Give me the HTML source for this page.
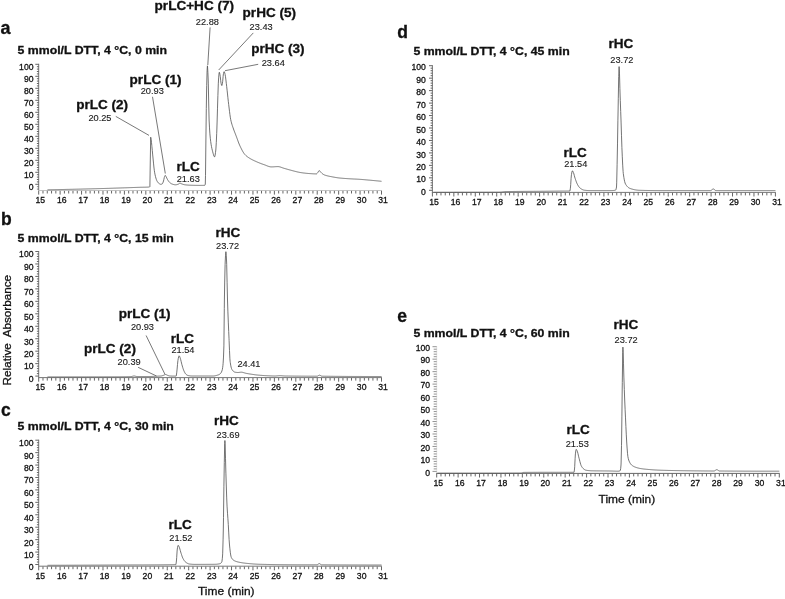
<!DOCTYPE html>
<html lang="en"><head><meta charset="utf-8"><title>Figure</title>
<style>html,body{margin:0;padding:0;background:#fff}svg{display:block}text{font-family:"Liberation Sans", sans-serif}</style>
</head><body>
<svg width="785" height="599" viewBox="0 0 785 599" font-family='"Liberation Sans", sans-serif'>
<rect width="785" height="599" fill="#fff"/>
<line x1="38.70" y1="63.80" x2="38.70" y2="191.00" stroke="#777" stroke-width="1"/>
<line x1="38.20" y1="190.50" x2="382.00" y2="190.50" stroke="#c4c4c4" stroke-width="1"/>
<path d="M35.30,184.30H38.70M36.90,181.90H38.70M36.90,179.50H38.70M36.90,177.10H38.70M36.90,174.70H38.70M35.30,172.30H38.70M36.90,169.90H38.70M36.90,167.50H38.70M36.90,165.10H38.70M36.90,162.70H38.70M35.30,160.30H38.70M36.90,157.90H38.70M36.90,155.50H38.70M36.90,153.10H38.70M36.90,150.70H38.70M35.30,148.30H38.70M36.90,145.90H38.70M36.90,143.50H38.70M36.90,141.10H38.70M36.90,138.70H38.70M35.30,136.30H38.70M36.90,133.90H38.70M36.90,131.50H38.70M36.90,129.10H38.70M36.90,126.70H38.70M35.30,124.30H38.70M36.90,121.90H38.70M36.90,119.50H38.70M36.90,117.10H38.70M36.90,114.70H38.70M35.30,112.30H38.70M36.90,109.90H38.70M36.90,107.50H38.70M36.90,105.10H38.70M36.90,102.70H38.70M35.30,100.30H38.70M36.90,97.90H38.70M36.90,95.50H38.70M36.90,93.10H38.70M36.90,90.70H38.70M35.30,88.30H38.70M36.90,85.90H38.70M36.90,83.50H38.70M36.90,81.10H38.70M36.90,78.70H38.70M35.30,76.30H38.70M36.90,73.90H38.70M36.90,71.50H38.70M36.90,69.10H38.70M36.90,66.70H38.70M35.30,64.30H38.70" stroke="#555" stroke-width="0.9" fill="none"/>
<path d="M38.70,190.90V194.60M42.98,190.90V193.50M47.27,190.90V193.50M51.56,190.90V193.50M55.84,190.90V193.50M60.12,190.90V194.60M64.41,190.90V193.50M68.69,190.90V193.50M72.98,190.90V193.50M77.27,190.90V193.50M81.55,190.90V194.60M85.84,190.90V193.50M90.12,190.90V193.50M94.41,190.90V193.50M98.69,190.90V193.50M102.98,190.90V194.60M107.26,190.90V193.50M111.55,190.90V193.50M115.83,190.90V193.50M120.11,190.90V193.50M124.40,190.90V194.60M128.69,190.90V193.50M132.97,190.90V193.50M137.25,190.90V193.50M141.54,190.90V193.50M145.82,190.90V194.60M150.11,190.90V193.50M154.40,190.90V193.50M158.68,190.90V193.50M162.97,190.90V193.50M167.25,190.90V194.60M171.54,190.90V193.50M175.82,190.90V193.50M180.11,190.90V193.50M184.39,190.90V193.50M188.68,190.90V194.60M192.96,190.90V193.50M197.25,190.90V193.50M201.53,190.90V193.50M205.81,190.90V193.50M210.10,190.90V194.60M214.38,190.90V193.50M218.67,190.90V193.50M222.95,190.90V193.50M227.24,190.90V193.50M231.52,190.90V194.60M235.81,190.90V193.50M240.10,190.90V193.50M244.38,190.90V193.50M248.67,190.90V193.50M252.95,190.90V194.60M257.24,190.90V193.50M261.52,190.90V193.50M265.81,190.90V193.50M270.09,190.90V193.50M274.38,190.90V194.60M278.66,190.90V193.50M282.95,190.90V193.50M287.23,190.90V193.50M291.51,190.90V193.50M295.80,190.90V194.60M300.08,190.90V193.50M304.37,190.90V193.50M308.66,190.90V193.50M312.94,190.90V193.50M317.22,190.90V194.60M321.51,190.90V193.50M325.80,190.90V193.50M330.08,190.90V193.50M334.37,190.90V193.50M338.65,190.90V194.60M342.94,190.90V193.50M347.22,190.90V193.50M351.50,190.90V193.50M355.79,190.90V193.50M360.07,190.90V194.60M364.36,190.90V193.50M368.65,190.90V193.50M372.93,190.90V193.50M377.21,190.90V193.50M381.50,190.90V194.60" stroke="#555" stroke-width="0.9" fill="none"/>
<text transform="translate(33.50,189.70) scale(0.96,1)" font-size="9.0" text-anchor="end" fill="#111" stroke="#111" stroke-width="0.3" id="t1">0</text>
<text transform="translate(33.50,177.70) scale(0.96,1)" font-size="9.0" text-anchor="end" fill="#111" stroke="#111" stroke-width="0.3" id="t2">10</text>
<text transform="translate(33.50,165.70) scale(0.96,1)" font-size="9.0" text-anchor="end" fill="#111" stroke="#111" stroke-width="0.3" id="t3">20</text>
<text transform="translate(33.50,153.70) scale(0.96,1)" font-size="9.0" text-anchor="end" fill="#111" stroke="#111" stroke-width="0.3" id="t4">30</text>
<text transform="translate(33.50,141.70) scale(0.96,1)" font-size="9.0" text-anchor="end" fill="#111" stroke="#111" stroke-width="0.3" id="t5">40</text>
<text transform="translate(33.50,129.70) scale(0.96,1)" font-size="9.0" text-anchor="end" fill="#111" stroke="#111" stroke-width="0.3" id="t6">50</text>
<text transform="translate(33.50,117.70) scale(0.96,1)" font-size="9.0" text-anchor="end" fill="#111" stroke="#111" stroke-width="0.3" id="t7">60</text>
<text transform="translate(33.50,105.70) scale(0.96,1)" font-size="9.0" text-anchor="end" fill="#111" stroke="#111" stroke-width="0.3" id="t8">70</text>
<text transform="translate(33.50,93.70) scale(0.96,1)" font-size="9.0" text-anchor="end" fill="#111" stroke="#111" stroke-width="0.3" id="t9">80</text>
<text transform="translate(33.50,81.70) scale(0.96,1)" font-size="9.0" text-anchor="end" fill="#111" stroke="#111" stroke-width="0.3" id="t10">90</text>
<text transform="translate(33.50,69.70) scale(0.96,1)" font-size="9.0" text-anchor="end" fill="#111" stroke="#111" stroke-width="0.3" id="t11">100</text>
<text transform="translate(40.30,203.20) scale(0.96,1)" font-size="9.0" text-anchor="middle" fill="#111" stroke="#111" stroke-width="0.3" id="t12">15</text>
<text transform="translate(61.73,203.20) scale(0.96,1)" font-size="9.0" text-anchor="middle" fill="#111" stroke="#111" stroke-width="0.3" id="t13">16</text>
<text transform="translate(83.15,203.20) scale(0.96,1)" font-size="9.0" text-anchor="middle" fill="#111" stroke="#111" stroke-width="0.3" id="t14">17</text>
<text transform="translate(104.58,203.20) scale(0.96,1)" font-size="9.0" text-anchor="middle" fill="#111" stroke="#111" stroke-width="0.3" id="t15">18</text>
<text transform="translate(126.00,203.20) scale(0.96,1)" font-size="9.0" text-anchor="middle" fill="#111" stroke="#111" stroke-width="0.3" id="t16">19</text>
<text transform="translate(147.42,203.20) scale(0.96,1)" font-size="9.0" text-anchor="middle" fill="#111" stroke="#111" stroke-width="0.3" id="t17">20</text>
<text transform="translate(168.85,203.20) scale(0.96,1)" font-size="9.0" text-anchor="middle" fill="#111" stroke="#111" stroke-width="0.3" id="t18">21</text>
<text transform="translate(190.28,203.20) scale(0.96,1)" font-size="9.0" text-anchor="middle" fill="#111" stroke="#111" stroke-width="0.3" id="t19">22</text>
<text transform="translate(211.70,203.20) scale(0.96,1)" font-size="9.0" text-anchor="middle" fill="#111" stroke="#111" stroke-width="0.3" id="t20">23</text>
<text transform="translate(233.13,203.20) scale(0.96,1)" font-size="9.0" text-anchor="middle" fill="#111" stroke="#111" stroke-width="0.3" id="t21">24</text>
<text transform="translate(254.55,203.20) scale(0.96,1)" font-size="9.0" text-anchor="middle" fill="#111" stroke="#111" stroke-width="0.3" id="t22">25</text>
<text transform="translate(275.98,203.20) scale(0.96,1)" font-size="9.0" text-anchor="middle" fill="#111" stroke="#111" stroke-width="0.3" id="t23">26</text>
<text transform="translate(297.40,203.20) scale(0.96,1)" font-size="9.0" text-anchor="middle" fill="#111" stroke="#111" stroke-width="0.3" id="t24">27</text>
<text transform="translate(318.83,203.20) scale(0.96,1)" font-size="9.0" text-anchor="middle" fill="#111" stroke="#111" stroke-width="0.3" id="t25">28</text>
<text transform="translate(340.25,203.20) scale(0.96,1)" font-size="9.0" text-anchor="middle" fill="#111" stroke="#111" stroke-width="0.3" id="t26">29</text>
<text transform="translate(361.68,203.20) scale(0.96,1)" font-size="9.0" text-anchor="middle" fill="#111" stroke="#111" stroke-width="0.3" id="t27">30</text>
<text transform="translate(383.10,203.20) scale(0.96,1)" font-size="9.0" text-anchor="middle" fill="#111" stroke="#111" stroke-width="0.3" id="t28">31</text>
<path d="M36.9,186.7H38.7M36.9,189.1H38.7" stroke="#666" stroke-width="0.8"/>
<text transform="translate(0.50,33.90)" font-size="18.0" font-weight="bold" fill="#111" stroke="#111" stroke-width="0.3" id="t29">a</text>
<text transform="translate(17.60,53.50) scale(1.118,1)" font-size="11.0" font-weight="bold" fill="#111" stroke="#111" stroke-width="0.3" id="t30">5 mmol/L DTT, 4 °C, 0 min</text>
<text transform="translate(154.60,9.90) scale(1.075,1)" font-size="12.6" font-weight="bold" fill="#111" stroke="#111" stroke-width="0.3" id="t31">prLC+HC (7)</text>
<text transform="translate(195.80,25.20) scale(1.05,1)" font-size="8.8" fill="#1a1a1a" stroke="#1a1a1a" stroke-width="0.12" id="t32">22.88</text>
<line x1="210.10" y1="27.40" x2="207.80" y2="65.00" stroke="#555" stroke-width="0.8"/>
<text transform="translate(242.60,17.20) scale(1.075,1)" font-size="12.6" font-weight="bold" fill="#111" stroke="#111" stroke-width="0.3" id="t33">prHC (5)</text>
<text transform="translate(249.60,29.90) scale(1.05,1)" font-size="8.8" fill="#1a1a1a" stroke="#1a1a1a" stroke-width="0.12" id="t34">23.43</text>
<line x1="253.30" y1="32.90" x2="218.70" y2="70.00" stroke="#555" stroke-width="0.8"/>
<text transform="translate(251.20,52.90) scale(1.075,1)" font-size="12.6" font-weight="bold" fill="#111" stroke="#111" stroke-width="0.3" id="t35">prHC (3)</text>
<text transform="translate(261.70,65.60) scale(1.05,1)" font-size="8.8" fill="#1a1a1a" stroke="#1a1a1a" stroke-width="0.12" id="t36">23.64</text>
<line x1="258.20" y1="64.30" x2="225.00" y2="70.70" stroke="#555" stroke-width="0.8"/>
<text transform="translate(129.60,84.40) scale(1.075,1)" font-size="12.6" font-weight="bold" fill="#111" stroke="#111" stroke-width="0.3" id="t37">prLC (1)</text>
<text transform="translate(140.70,94.30) scale(1.05,1)" font-size="8.8" fill="#1a1a1a" stroke="#1a1a1a" stroke-width="0.12" id="t38">20.93</text>
<line x1="152.50" y1="96.80" x2="165.30" y2="173.50" stroke="#555" stroke-width="0.8"/>
<text transform="translate(76.20,108.60) scale(1.075,1)" font-size="12.6" font-weight="bold" fill="#111" stroke="#111" stroke-width="0.3" id="t39">prLC (2)</text>
<text transform="translate(88.40,120.80) scale(1.05,1)" font-size="8.8" fill="#1a1a1a" stroke="#1a1a1a" stroke-width="0.12" id="t40">20.25</text>
<line x1="115.80" y1="116.40" x2="149.00" y2="135.40" stroke="#555" stroke-width="0.8"/>
<text transform="translate(176.40,171.00) scale(1.075,1)" font-size="12.6" font-weight="bold" fill="#111" stroke="#111" stroke-width="0.3" id="t41">rLC</text>
<text transform="translate(176.70,181.50) scale(1.05,1)" font-size="8.8" fill="#1a1a1a" stroke="#1a1a1a" stroke-width="0.12" id="t42">21.63</text>
<path d="M47.50,189.80 L47.90,189.79 L48.30,189.79 L48.70,189.78 L49.10,189.77 L49.50,189.76 L49.90,189.76 L50.30,189.75 L50.70,189.74 L51.10,189.74 L51.50,189.73 L51.90,189.72 L52.30,189.71 L52.70,189.71 L53.10,189.70 L53.50,189.69 L53.90,189.68 L54.30,189.68 L54.70,189.67 L55.10,189.66 L55.50,189.65 L55.90,189.65 L56.30,189.64 L56.70,189.63 L57.10,189.62 L57.50,189.61 L57.90,189.61 L58.30,189.60 L58.70,189.59 L59.10,189.58 L59.50,189.57 L59.90,189.57 L60.30,189.56 L60.70,189.55 L61.10,189.54 L61.50,189.53 L61.90,189.52 L62.30,189.52 L62.70,189.51 L63.10,189.50 L63.50,189.49 L63.90,189.48 L64.30,189.47 L64.70,189.47 L65.10,189.46 L65.50,189.45 L65.90,189.44 L66.30,189.43 L66.70,189.42 L67.10,189.41 L67.50,189.40 L67.90,189.40 L68.30,189.39 L68.70,189.38 L69.10,189.37 L69.50,189.36 L69.90,189.35 L70.30,189.34 L70.70,189.33 L71.10,189.32 L71.50,189.32 L71.90,189.31 L72.30,189.30 L72.70,189.29 L73.10,189.28 L73.50,189.27 L73.90,189.26 L74.30,189.25 L74.70,189.24 L75.10,189.23 L75.50,189.22 L75.90,189.21 L76.30,189.20 L76.70,189.19 L77.10,189.18 L77.50,189.18 L77.90,189.17 L78.30,189.16 L78.70,189.15 L79.10,189.14 L79.50,189.13 L79.90,189.12 L80.30,189.11 L80.70,189.10 L81.10,189.09 L81.50,189.08 L81.90,189.07 L82.30,189.06 L82.70,189.05 L83.10,189.04 L83.50,189.03 L83.90,189.02 L84.30,189.01 L84.70,189.00 L85.10,188.99 L85.50,188.98 L85.90,188.97 L86.30,188.96 L86.70,188.95 L87.10,188.94 L87.50,188.93 L87.90,188.92 L88.30,188.91 L88.70,188.90 L89.10,188.89 L89.50,188.88 L89.90,188.87 L90.30,188.86 L90.70,188.85 L91.10,188.84 L91.50,188.83 L91.90,188.82 L92.30,188.80 L92.70,188.79 L93.10,188.78 L93.50,188.77 L93.90,188.76 L94.30,188.75 L94.70,188.74 L95.10,188.73 L95.50,188.72 L95.90,188.71 L96.30,188.70 L96.70,188.69 L97.10,188.68 L97.50,188.67 L97.90,188.66 L98.30,188.65 L98.70,188.64 L99.10,188.62 L99.50,188.61 L99.90,188.60 L100.00,188.60 L100.30,188.59 L100.70,188.58 L101.10,188.57 L101.50,188.56 L101.90,188.55 L102.30,188.54 L102.70,188.52 L103.10,188.51 L103.50,188.50 L103.90,188.49 L104.30,188.48 L104.70,188.47 L105.10,188.46 L105.50,188.44 L105.90,188.43 L106.30,188.42 L106.70,188.41 L107.10,188.40 L107.50,188.38 L107.90,188.37 L108.30,188.36 L108.70,188.35 L109.10,188.33 L109.50,188.32 L109.90,188.31 L110.30,188.30 L110.70,188.28 L111.10,188.27 L111.50,188.26 L111.90,188.24 L112.30,188.23 L112.70,188.22 L113.10,188.21 L113.50,188.19 L113.90,188.18 L114.30,188.17 L114.70,188.15 L115.10,188.14 L115.50,188.13 L115.90,188.11 L116.30,188.10 L116.70,188.09 L117.10,188.07 L117.50,188.06 L117.90,188.05 L118.30,188.03 L118.70,188.02 L119.10,188.01 L119.50,187.99 L119.90,187.98 L120.30,187.97 L120.70,187.95 L121.10,187.94 L121.50,187.92 L121.90,187.91 L122.30,187.90 L122.70,187.88 L123.10,187.87 L123.50,187.86 L123.90,187.84 L124.30,187.83 L124.70,187.81 L125.10,187.80 L125.50,187.79 L125.90,187.77 L126.30,187.76 L126.70,187.75 L127.10,187.73 L127.50,187.72 L127.90,187.71 L128.30,187.69 L128.70,187.68 L129.10,187.66 L129.50,187.65 L129.90,187.64 L130.30,187.62 L130.70,187.61 L131.10,187.60 L131.50,187.58 L131.90,187.57 L132.30,187.55 L132.70,187.54 L133.10,187.53 L133.50,187.51 L133.90,187.50 L134.30,187.49 L134.70,187.47 L135.10,187.46 L135.50,187.45 L135.90,187.43 L136.30,187.42 L136.70,187.41 L137.10,187.39 L137.50,187.38 L137.90,187.37 L138.30,187.36 L138.70,187.34 L139.10,187.33 L139.50,187.32 L139.90,187.30 L140.00,187.30 L140.30,187.29 L140.70,187.28 L141.10,187.27 L141.50,187.26 L141.90,187.26 L142.30,187.25 L142.70,187.24 L143.10,187.24 L143.50,187.23 L143.90,187.23 L144.30,187.22 L144.70,187.21 L145.10,187.21 L145.50,187.20 L145.90,187.19 L146.30,187.17 L146.70,187.16 L147.10,187.14 L147.50,187.13 L147.90,187.11 L148.30,187.08 L148.70,187.05 L149.10,187.02 L149.40,187.00 L149.50,186.98 L149.90,186.50 L149.90,186.50 L150.30,160.00 L150.30,160.00 L150.70,137.20 L150.70,137.20 L151.10,139.35 L151.30,141.00 L151.50,142.66 L151.80,145.50 L151.90,146.47 L152.30,150.63 L152.70,154.93 L153.00,158.00 L153.10,158.99 L153.50,163.08 L153.90,167.01 L154.30,170.32 L154.40,171.00 L154.70,172.82 L155.10,174.90 L155.50,176.62 L155.60,177.00 L155.90,178.06 L156.30,179.33 L156.70,180.38 L157.00,181.00 L157.10,181.18 L157.50,181.83 L157.90,182.39 L158.30,182.86 L158.70,183.22 L158.80,183.30 L159.10,183.52 L159.50,183.80 L159.90,184.04 L160.30,184.21 L160.70,184.30 L160.80,184.30 L161.10,184.28 L161.50,184.18 L161.90,184.02 L162.30,183.80 L162.30,183.80 L162.70,183.24 L163.10,182.21 L163.50,181.00 L163.50,181.00 L163.90,179.34 L164.30,177.48 L164.50,176.80 L164.70,176.25 L165.10,175.45 L165.20,175.40 L165.50,175.64 L165.90,176.33 L166.00,176.50 L166.30,177.04 L166.70,177.88 L167.10,178.74 L167.50,179.50 L167.50,179.50 L167.90,180.16 L168.30,180.79 L168.70,181.37 L169.10,181.88 L169.50,182.30 L169.50,182.30 L169.90,182.66 L170.30,182.99 L170.70,183.29 L171.10,183.56 L171.50,183.78 L171.90,183.96 L172.00,184.00 L172.30,184.10 L172.70,184.24 L173.10,184.37 L173.50,184.49 L173.90,184.59 L174.30,184.68 L174.70,184.74 L175.10,184.79 L175.50,184.80 L175.50,184.80 L175.90,184.78 L176.30,184.73 L176.70,184.66 L177.10,184.56 L177.50,184.45 L177.90,184.33 L178.00,184.30 L178.30,184.16 L178.70,183.88 L179.10,183.56 L179.50,183.31 L179.90,183.20 L179.90,183.20 L180.30,183.26 L180.70,183.40 L181.10,183.59 L181.50,183.79 L181.90,183.97 L182.00,184.00 L182.30,184.10 L182.70,184.22 L183.10,184.35 L183.50,184.47 L183.90,184.58 L184.30,184.68 L184.70,184.75 L185.00,184.80 L185.10,184.81 L185.50,184.86 L185.90,184.91 L186.30,184.95 L186.70,184.99 L187.10,185.03 L187.50,185.06 L187.90,185.09 L188.30,185.12 L188.70,185.14 L189.10,185.16 L189.50,185.18 L189.90,185.20 L190.00,185.20 L190.30,185.21 L190.70,185.22 L191.10,185.24 L191.50,185.25 L191.90,185.26 L192.30,185.27 L192.70,185.29 L193.10,185.30 L193.50,185.31 L193.90,185.32 L194.30,185.33 L194.70,185.34 L195.10,185.34 L195.50,185.35 L195.90,185.36 L196.30,185.37 L196.70,185.37 L197.10,185.38 L197.50,185.38 L197.90,185.39 L198.30,185.39 L198.70,185.40 L199.10,185.40 L199.50,185.40 L199.90,185.40 L200.00,185.40 L200.30,185.40 L200.70,185.40 L201.10,185.40 L201.50,185.39 L201.90,185.39 L202.30,185.39 L202.70,185.38 L203.10,185.37 L203.50,185.36 L203.90,185.34 L204.30,185.33 L204.70,185.31 L204.80,185.30 L205.10,184.81 L205.30,184.00 L205.50,175.38 L205.90,140.00 L205.90,140.00 L206.30,108.56 L206.60,90.00 L206.70,85.68 L207.10,70.44 L207.40,65.80 L207.50,66.14 L207.90,72.56 L208.20,80.00 L208.30,83.14 L208.70,103.03 L209.10,120.00 L209.10,120.00 L209.50,127.88 L209.90,133.83 L210.30,138.24 L210.50,140.00 L210.70,141.56 L211.10,144.30 L211.50,146.61 L211.90,148.56 L212.30,150.23 L212.50,151.00 L212.70,151.76 L213.10,153.31 L213.50,154.76 L213.90,155.95 L214.30,156.71 L214.60,156.90 L214.70,156.83 L215.10,155.40 L215.50,152.59 L215.80,150.00 L215.90,148.96 L216.30,142.41 L216.70,133.41 L216.80,131.00 L217.10,122.05 L217.50,108.15 L217.60,105.00 L217.90,95.47 L218.30,83.85 L218.50,80.00 L218.70,77.17 L219.10,72.88 L219.30,72.20 L219.50,72.48 L219.90,74.25 L220.20,76.00 L220.30,76.69 L220.70,80.63 L221.00,83.00 L221.10,83.47 L221.50,85.11 L221.80,85.60 L221.90,85.51 L222.30,83.87 L222.60,82.00 L222.70,81.24 L223.10,76.69 L223.40,74.00 L223.50,73.50 L223.90,71.87 L224.10,71.60 L224.30,71.77 L224.70,72.88 L225.00,74.00 L225.10,74.42 L225.50,76.79 L225.90,79.93 L226.30,83.34 L226.50,85.00 L226.70,86.66 L227.10,90.23 L227.50,93.98 L227.90,97.73 L228.30,101.32 L228.50,103.00 L228.70,104.65 L229.10,108.00 L229.50,111.30 L229.90,114.42 L230.30,117.21 L230.70,119.52 L230.80,120.00 L231.10,121.32 L231.50,122.89 L231.90,124.28 L232.30,125.54 L232.70,126.71 L233.10,127.85 L233.50,129.00 L233.50,129.00 L233.90,130.14 L234.30,131.21 L234.70,132.24 L235.10,133.26 L235.50,134.27 L235.90,135.30 L235.90,135.30 L236.30,136.36 L236.70,137.46 L237.10,138.56 L237.50,139.67 L237.90,140.78 L238.30,141.86 L238.70,142.92 L239.10,143.93 L239.50,144.89 L239.90,145.79 L240.00,146.00 L240.30,146.63 L240.70,147.46 L241.10,148.28 L241.50,149.08 L241.90,149.86 L242.30,150.61 L242.70,151.33 L243.10,152.01 L243.50,152.65 L243.90,153.25 L244.30,153.79 L244.70,154.29 L244.80,154.40 L245.10,154.73 L245.50,155.14 L245.90,155.52 L246.30,155.88 L246.70,156.22 L247.10,156.53 L247.50,156.84 L247.90,157.12 L248.30,157.40 L248.60,157.60 L248.70,157.67 L249.10,157.93 L249.50,158.18 L249.90,158.42 L250.30,158.66 L250.70,158.89 L251.10,159.11 L251.50,159.33 L251.90,159.54 L252.30,159.75 L252.70,159.95 L253.10,160.15 L253.50,160.34 L253.90,160.53 L254.30,160.72 L254.70,160.91 L255.10,161.09 L255.50,161.27 L255.90,161.45 L256.00,161.50 L256.30,161.63 L256.70,161.81 L257.10,161.99 L257.50,162.16 L257.90,162.33 L258.30,162.49 L258.70,162.66 L259.10,162.82 L259.50,162.98 L259.90,163.14 L260.30,163.29 L260.70,163.45 L261.10,163.60 L261.50,163.75 L261.90,163.89 L262.30,164.04 L262.70,164.18 L263.10,164.32 L263.50,164.46 L263.90,164.60 L263.90,164.60 L264.30,164.74 L264.70,164.89 L265.10,165.04 L265.50,165.20 L265.90,165.36 L266.30,165.53 L266.70,165.69 L267.10,165.85 L267.50,166.00 L267.90,166.15 L268.30,166.29 L268.70,166.42 L269.10,166.53 L269.50,166.64 L269.90,166.73 L270.30,166.80 L270.70,166.85 L271.10,166.89 L271.50,166.90 L271.50,166.90 L271.90,166.90 L272.30,166.89 L272.70,166.87 L273.10,166.85 L273.50,166.83 L273.90,166.81 L274.30,166.78 L274.70,166.75 L275.10,166.72 L275.50,166.69 L275.90,166.67 L276.30,166.65 L276.70,166.63 L277.10,166.61 L277.50,166.60 L277.90,166.60 L277.90,166.60 L278.30,166.61 L278.70,166.65 L279.10,166.72 L279.50,166.80 L279.90,166.90 L280.30,167.02 L280.70,167.15 L281.10,167.29 L281.50,167.43 L281.90,167.58 L282.30,167.73 L282.70,167.88 L283.10,168.02 L283.50,168.15 L283.90,168.27 L284.00,168.30 L284.30,168.38 L284.70,168.50 L285.10,168.61 L285.50,168.73 L285.90,168.85 L286.30,168.96 L286.70,169.08 L287.10,169.20 L287.50,169.31 L287.90,169.43 L288.30,169.54 L288.70,169.65 L289.10,169.76 L289.50,169.87 L289.90,169.97 L290.00,170.00 L290.30,170.08 L290.70,170.18 L291.10,170.29 L291.50,170.40 L291.90,170.50 L292.30,170.61 L292.70,170.72 L293.10,170.82 L293.50,170.93 L293.90,171.04 L294.30,171.14 L294.70,171.25 L295.10,171.35 L295.50,171.45 L295.90,171.55 L296.30,171.65 L296.70,171.75 L297.10,171.85 L297.50,171.94 L297.90,172.03 L298.30,172.12 L298.70,172.20 L299.10,172.28 L299.50,172.36 L299.90,172.44 L300.30,172.51 L300.70,172.58 L301.10,172.64 L301.50,172.70 L301.50,172.70 L301.90,172.76 L302.30,172.81 L302.70,172.87 L303.10,172.92 L303.50,172.97 L303.90,173.02 L304.30,173.07 L304.70,173.12 L305.10,173.16 L305.50,173.21 L305.90,173.25 L306.30,173.29 L306.70,173.33 L307.10,173.37 L307.50,173.41 L307.90,173.44 L308.30,173.48 L308.70,173.51 L309.10,173.54 L309.50,173.57 L309.90,173.59 L310.00,173.60 L310.30,173.62 L310.70,173.65 L311.10,173.67 L311.50,173.70 L311.90,173.72 L312.30,173.75 L312.70,173.77 L313.10,173.80 L313.50,173.82 L313.90,173.84 L314.30,173.85 L314.70,173.87 L315.10,173.88 L315.50,173.89 L315.90,173.90 L316.30,173.90 L316.40,173.90 L316.70,173.79 L317.10,173.40 L317.50,172.88 L317.80,172.50 L317.90,172.37 L318.30,171.71 L318.70,171.02 L319.10,170.62 L319.20,170.60 L319.50,170.72 L319.90,171.13 L320.30,171.65 L320.60,172.00 L320.70,172.10 L321.10,172.50 L321.50,172.91 L321.90,173.30 L322.30,173.65 L322.50,173.80 L322.70,173.94 L323.10,174.21 L323.50,174.46 L323.90,174.69 L324.30,174.88 L324.60,175.00 L324.70,175.04 L325.10,175.18 L325.50,175.31 L325.90,175.44 L326.30,175.56 L326.70,175.67 L327.10,175.77 L327.50,175.87 L327.90,175.97 L328.30,176.06 L328.70,176.15 L329.10,176.24 L329.50,176.32 L329.90,176.40 L330.30,176.47 L330.70,176.55 L331.10,176.63 L331.50,176.70 L331.90,176.78 L332.00,176.80 L332.30,176.86 L332.70,176.93 L333.10,177.01 L333.50,177.08 L333.90,177.16 L334.30,177.23 L334.70,177.30 L335.10,177.37 L335.50,177.44 L335.90,177.51 L336.30,177.57 L336.70,177.63 L337.10,177.69 L337.50,177.75 L337.90,177.81 L338.30,177.86 L338.70,177.91 L339.10,177.96 L339.50,178.00 L339.50,178.00 L339.90,178.04 L340.30,178.08 L340.70,178.12 L341.10,178.16 L341.50,178.19 L341.90,178.23 L342.30,178.26 L342.70,178.30 L343.10,178.33 L343.50,178.36 L343.90,178.39 L344.30,178.42 L344.70,178.45 L345.10,178.48 L345.50,178.51 L345.90,178.54 L346.30,178.56 L346.70,178.59 L347.10,178.62 L347.50,178.64 L347.90,178.67 L348.30,178.69 L348.70,178.72 L349.10,178.74 L349.50,178.77 L349.90,178.79 L350.00,178.80 L350.30,178.82 L350.70,178.84 L351.10,178.87 L351.50,178.89 L351.90,178.91 L352.30,178.93 L352.70,178.95 L353.10,178.97 L353.50,178.99 L353.90,179.01 L354.30,179.03 L354.70,179.05 L355.10,179.07 L355.50,179.09 L355.90,179.10 L356.30,179.12 L356.70,179.15 L357.10,179.17 L357.50,179.19 L357.90,179.21 L358.30,179.23 L358.70,179.26 L359.10,179.28 L359.40,179.30 L359.50,179.31 L359.90,179.33 L360.30,179.36 L360.70,179.39 L361.10,179.42 L361.50,179.45 L361.90,179.48 L362.30,179.51 L362.70,179.55 L363.10,179.58 L363.50,179.61 L363.90,179.65 L364.30,179.68 L364.70,179.72 L365.10,179.75 L365.50,179.79 L365.90,179.82 L366.30,179.86 L366.70,179.90 L367.10,179.93 L367.50,179.97 L367.90,180.01 L368.30,180.05 L368.70,180.08 L369.10,180.12 L369.50,180.15 L369.90,180.19 L370.00,180.20 L370.30,180.23 L370.70,180.26 L371.10,180.30 L371.50,180.34 L371.90,180.37 L372.30,180.41 L372.70,180.45 L373.10,180.48 L373.50,180.52 L373.90,180.56 L374.30,180.60 L374.70,180.63 L375.10,180.67 L375.50,180.71 L375.90,180.75 L376.30,180.79 L376.70,180.83 L377.10,180.86 L377.50,180.90 L377.90,180.94 L378.30,180.98 L378.70,181.02 L379.10,181.06 L379.50,181.10 L379.90,181.14 L380.30,181.18 L380.70,181.22 L381.10,181.26 L381.50,181.30" fill="none" stroke="#505050" stroke-width="0.8" stroke-linejoin="round"/>
<line x1="38.70" y1="251.00" x2="38.70" y2="378.10" stroke="#777" stroke-width="1"/>
<line x1="38.20" y1="377.60" x2="382.00" y2="377.60" stroke="#777" stroke-width="1"/>
<path d="M35.30,376.10H38.70M36.90,373.61H38.70M36.90,371.12H38.70M36.90,368.62H38.70M36.90,366.13H38.70M35.30,363.64H38.70M36.90,361.15H38.70M36.90,358.66H38.70M36.90,356.16H38.70M36.90,353.67H38.70M35.30,351.18H38.70M36.90,348.69H38.70M36.90,346.20H38.70M36.90,343.70H38.70M36.90,341.21H38.70M35.30,338.72H38.70M36.90,336.23H38.70M36.90,333.74H38.70M36.90,331.24H38.70M36.90,328.75H38.70M35.30,326.26H38.70M36.90,323.77H38.70M36.90,321.28H38.70M36.90,318.78H38.70M36.90,316.29H38.70M35.30,313.80H38.70M36.90,311.31H38.70M36.90,308.82H38.70M36.90,306.32H38.70M36.90,303.83H38.70M35.30,301.34H38.70M36.90,298.85H38.70M36.90,296.36H38.70M36.90,293.86H38.70M36.90,291.37H38.70M35.30,288.88H38.70M36.90,286.39H38.70M36.90,283.90H38.70M36.90,281.40H38.70M36.90,278.91H38.70M35.30,276.42H38.70M36.90,273.93H38.70M36.90,271.44H38.70M36.90,268.94H38.70M36.90,266.45H38.70M35.30,263.96H38.70M36.90,261.47H38.70M36.90,258.98H38.70M36.90,256.48H38.70M36.90,253.99H38.70M35.30,251.50H38.70" stroke="#555" stroke-width="0.9" fill="none"/>
<path d="M38.70,378.00V381.70M42.98,378.00V380.60M47.27,378.00V380.60M51.56,378.00V380.60M55.84,378.00V380.60M60.12,378.00V381.70M64.41,378.00V380.60M68.69,378.00V380.60M72.98,378.00V380.60M77.27,378.00V380.60M81.55,378.00V381.70M85.84,378.00V380.60M90.12,378.00V380.60M94.41,378.00V380.60M98.69,378.00V380.60M102.98,378.00V381.70M107.26,378.00V380.60M111.55,378.00V380.60M115.83,378.00V380.60M120.11,378.00V380.60M124.40,378.00V381.70M128.69,378.00V380.60M132.97,378.00V380.60M137.25,378.00V380.60M141.54,378.00V380.60M145.82,378.00V381.70M150.11,378.00V380.60M154.40,378.00V380.60M158.68,378.00V380.60M162.97,378.00V380.60M167.25,378.00V381.70M171.54,378.00V380.60M175.82,378.00V380.60M180.11,378.00V380.60M184.39,378.00V380.60M188.68,378.00V381.70M192.96,378.00V380.60M197.25,378.00V380.60M201.53,378.00V380.60M205.81,378.00V380.60M210.10,378.00V381.70M214.38,378.00V380.60M218.67,378.00V380.60M222.95,378.00V380.60M227.24,378.00V380.60M231.52,378.00V381.70M235.81,378.00V380.60M240.10,378.00V380.60M244.38,378.00V380.60M248.67,378.00V380.60M252.95,378.00V381.70M257.24,378.00V380.60M261.52,378.00V380.60M265.81,378.00V380.60M270.09,378.00V380.60M274.38,378.00V381.70M278.66,378.00V380.60M282.95,378.00V380.60M287.23,378.00V380.60M291.51,378.00V380.60M295.80,378.00V381.70M300.08,378.00V380.60M304.37,378.00V380.60M308.66,378.00V380.60M312.94,378.00V380.60M317.22,378.00V381.70M321.51,378.00V380.60M325.80,378.00V380.60M330.08,378.00V380.60M334.37,378.00V380.60M338.65,378.00V381.70M342.94,378.00V380.60M347.22,378.00V380.60M351.50,378.00V380.60M355.79,378.00V380.60M360.07,378.00V381.70M364.36,378.00V380.60M368.65,378.00V380.60M372.93,378.00V380.60M377.21,378.00V380.60M381.50,378.00V381.70" stroke="#555" stroke-width="0.9" fill="none"/>
<text transform="translate(33.50,381.90) scale(0.96,1)" font-size="9.0" text-anchor="end" fill="#111" stroke="#111" stroke-width="0.3" id="t43">0</text>
<text transform="translate(33.50,369.44) scale(0.96,1)" font-size="9.0" text-anchor="end" fill="#111" stroke="#111" stroke-width="0.3" id="t44">10</text>
<text transform="translate(33.50,356.98) scale(0.96,1)" font-size="9.0" text-anchor="end" fill="#111" stroke="#111" stroke-width="0.3" id="t45">20</text>
<text transform="translate(33.50,344.52) scale(0.96,1)" font-size="9.0" text-anchor="end" fill="#111" stroke="#111" stroke-width="0.3" id="t46">30</text>
<text transform="translate(33.50,332.06) scale(0.96,1)" font-size="9.0" text-anchor="end" fill="#111" stroke="#111" stroke-width="0.3" id="t47">40</text>
<text transform="translate(33.50,319.60) scale(0.96,1)" font-size="9.0" text-anchor="end" fill="#111" stroke="#111" stroke-width="0.3" id="t48">50</text>
<text transform="translate(33.50,307.14) scale(0.96,1)" font-size="9.0" text-anchor="end" fill="#111" stroke="#111" stroke-width="0.3" id="t49">60</text>
<text transform="translate(33.50,294.68) scale(0.96,1)" font-size="9.0" text-anchor="end" fill="#111" stroke="#111" stroke-width="0.3" id="t50">70</text>
<text transform="translate(33.50,282.22) scale(0.96,1)" font-size="9.0" text-anchor="end" fill="#111" stroke="#111" stroke-width="0.3" id="t51">80</text>
<text transform="translate(33.50,269.76) scale(0.96,1)" font-size="9.0" text-anchor="end" fill="#111" stroke="#111" stroke-width="0.3" id="t52">90</text>
<text transform="translate(33.50,257.30) scale(0.96,1)" font-size="9.0" text-anchor="end" fill="#111" stroke="#111" stroke-width="0.3" id="t53">100</text>
<text transform="translate(40.30,390.40) scale(0.96,1)" font-size="9.0" text-anchor="middle" fill="#111" stroke="#111" stroke-width="0.3" id="t54">15</text>
<text transform="translate(61.73,390.40) scale(0.96,1)" font-size="9.0" text-anchor="middle" fill="#111" stroke="#111" stroke-width="0.3" id="t55">16</text>
<text transform="translate(83.15,390.40) scale(0.96,1)" font-size="9.0" text-anchor="middle" fill="#111" stroke="#111" stroke-width="0.3" id="t56">17</text>
<text transform="translate(104.58,390.40) scale(0.96,1)" font-size="9.0" text-anchor="middle" fill="#111" stroke="#111" stroke-width="0.3" id="t57">18</text>
<text transform="translate(126.00,390.40) scale(0.96,1)" font-size="9.0" text-anchor="middle" fill="#111" stroke="#111" stroke-width="0.3" id="t58">19</text>
<text transform="translate(147.42,390.40) scale(0.96,1)" font-size="9.0" text-anchor="middle" fill="#111" stroke="#111" stroke-width="0.3" id="t59">20</text>
<text transform="translate(168.85,390.40) scale(0.96,1)" font-size="9.0" text-anchor="middle" fill="#111" stroke="#111" stroke-width="0.3" id="t60">21</text>
<text transform="translate(190.28,390.40) scale(0.96,1)" font-size="9.0" text-anchor="middle" fill="#111" stroke="#111" stroke-width="0.3" id="t61">22</text>
<text transform="translate(211.70,390.40) scale(0.96,1)" font-size="9.0" text-anchor="middle" fill="#111" stroke="#111" stroke-width="0.3" id="t62">23</text>
<text transform="translate(233.13,390.40) scale(0.96,1)" font-size="9.0" text-anchor="middle" fill="#111" stroke="#111" stroke-width="0.3" id="t63">24</text>
<text transform="translate(254.55,390.40) scale(0.96,1)" font-size="9.0" text-anchor="middle" fill="#111" stroke="#111" stroke-width="0.3" id="t64">25</text>
<text transform="translate(275.98,390.40) scale(0.96,1)" font-size="9.0" text-anchor="middle" fill="#111" stroke="#111" stroke-width="0.3" id="t65">26</text>
<text transform="translate(297.40,390.40) scale(0.96,1)" font-size="9.0" text-anchor="middle" fill="#111" stroke="#111" stroke-width="0.3" id="t66">27</text>
<text transform="translate(318.83,390.40) scale(0.96,1)" font-size="9.0" text-anchor="middle" fill="#111" stroke="#111" stroke-width="0.3" id="t67">28</text>
<text transform="translate(340.25,390.40) scale(0.96,1)" font-size="9.0" text-anchor="middle" fill="#111" stroke="#111" stroke-width="0.3" id="t68">29</text>
<text transform="translate(361.68,390.40) scale(0.96,1)" font-size="9.0" text-anchor="middle" fill="#111" stroke="#111" stroke-width="0.3" id="t69">30</text>
<text transform="translate(383.10,390.40) scale(0.96,1)" font-size="9.0" text-anchor="middle" fill="#111" stroke="#111" stroke-width="0.3" id="t70">31</text>
<text transform="translate(1.00,225.40)" font-size="17.5" font-weight="bold" fill="#111" stroke="#111" stroke-width="0.3" id="t71">b</text>
<text transform="translate(17.60,241.90) scale(1.118,1)" font-size="11.0" font-weight="bold" fill="#111" stroke="#111" stroke-width="0.3" id="t72">5 mmol/L DTT, 4 °C, 15 min</text>
<text transform="translate(215.40,236.70) scale(1.075,1)" font-size="12.6" font-weight="bold" fill="#111" stroke="#111" stroke-width="0.3" id="t73">rHC</text>
<text transform="translate(216.00,248.60) scale(1.05,1)" font-size="8.8" fill="#1a1a1a" stroke="#1a1a1a" stroke-width="0.12" id="t74">23.72</text>
<text transform="translate(118.70,318.30) scale(1.075,1)" font-size="12.6" font-weight="bold" fill="#111" stroke="#111" stroke-width="0.3" id="t75">prLC (1)</text>
<text transform="translate(130.90,330.30) scale(1.05,1)" font-size="8.8" fill="#1a1a1a" stroke="#1a1a1a" stroke-width="0.12" id="t76">20.93</text>
<line x1="146.10" y1="335.50" x2="164.90" y2="374.20" stroke="#555" stroke-width="0.8"/>
<text transform="translate(84.00,353.20) scale(1.075,1)" font-size="12.6" font-weight="bold" fill="#111" stroke="#111" stroke-width="0.3" id="t77">prLC (2)</text>
<text transform="translate(117.60,365.40) scale(1.05,1)" font-size="8.8" fill="#1a1a1a" stroke="#1a1a1a" stroke-width="0.12" id="t78">20.39</text>
<line x1="138.10" y1="367.30" x2="156.50" y2="376.00" stroke="#555" stroke-width="0.8"/>
<text transform="translate(170.70,342.50) scale(1.075,1)" font-size="12.6" font-weight="bold" fill="#111" stroke="#111" stroke-width="0.3" id="t79">rLC</text>
<text transform="translate(171.40,352.80) scale(1.05,1)" font-size="8.8" fill="#1a1a1a" stroke="#1a1a1a" stroke-width="0.12" id="t80">21.54</text>
<text transform="translate(237.40,367.00) scale(1.05,1)" font-size="8.8" fill="#1a1a1a" stroke="#1a1a1a" stroke-width="0.12" id="t81">24.41</text>
<path d="M47.50,376.90 L47.90,376.90 L48.30,376.90 L48.70,376.90 L49.10,376.90 L49.50,376.90 L49.90,376.90 L50.30,376.90 L50.70,376.90 L51.10,376.90 L51.50,376.90 L51.90,376.90 L52.30,376.90 L52.70,376.90 L53.10,376.90 L53.50,376.90 L53.90,376.90 L54.30,376.90 L54.70,376.90 L55.10,376.90 L55.50,376.90 L55.90,376.90 L56.30,376.90 L56.70,376.90 L57.10,376.90 L57.50,376.90 L57.90,376.90 L58.30,376.90 L58.70,376.90 L59.10,376.90 L59.50,376.90 L59.90,376.90 L60.30,376.90 L60.70,376.90 L61.10,376.90 L61.50,376.90 L61.90,376.90 L62.30,376.90 L62.70,376.90 L63.10,376.90 L63.50,376.90 L63.90,376.90 L64.30,376.90 L64.70,376.90 L65.10,376.90 L65.50,376.90 L65.90,376.90 L66.30,376.90 L66.70,376.89 L67.10,376.89 L67.50,376.89 L67.90,376.89 L68.30,376.89 L68.70,376.89 L69.10,376.89 L69.50,376.89 L69.90,376.89 L70.30,376.89 L70.70,376.89 L71.10,376.89 L71.50,376.89 L71.90,376.89 L72.30,376.89 L72.70,376.89 L73.10,376.89 L73.50,376.89 L73.90,376.89 L74.30,376.89 L74.70,376.89 L75.10,376.89 L75.50,376.89 L75.90,376.89 L76.30,376.89 L76.70,376.89 L77.10,376.89 L77.50,376.89 L77.90,376.89 L78.30,376.89 L78.70,376.89 L79.10,376.88 L79.50,376.88 L79.90,376.88 L80.30,376.88 L80.70,376.88 L81.10,376.88 L81.50,376.88 L81.90,376.88 L82.30,376.88 L82.70,376.88 L83.10,376.88 L83.50,376.88 L83.90,376.88 L84.30,376.88 L84.70,376.88 L85.10,376.88 L85.50,376.88 L85.90,376.88 L86.30,376.88 L86.70,376.88 L87.10,376.87 L87.50,376.87 L87.90,376.87 L88.30,376.87 L88.70,376.87 L89.10,376.87 L89.50,376.87 L89.90,376.87 L90.30,376.87 L90.70,376.87 L91.10,376.87 L91.50,376.87 L91.90,376.87 L92.30,376.87 L92.70,376.87 L93.10,376.87 L93.50,376.86 L93.90,376.86 L94.30,376.86 L94.70,376.86 L95.10,376.86 L95.50,376.86 L95.90,376.86 L96.30,376.86 L96.70,376.86 L97.10,376.86 L97.50,376.86 L97.90,376.86 L98.30,376.86 L98.70,376.86 L99.10,376.85 L99.50,376.85 L99.90,376.85 L100.30,376.85 L100.70,376.85 L101.10,376.85 L101.50,376.85 L101.90,376.85 L102.30,376.85 L102.70,376.85 L103.10,376.85 L103.50,376.85 L103.90,376.84 L104.30,376.84 L104.70,376.84 L105.10,376.84 L105.50,376.84 L105.90,376.84 L106.30,376.84 L106.70,376.84 L107.10,376.84 L107.50,376.84 L107.90,376.83 L108.30,376.83 L108.70,376.83 L109.10,376.83 L109.50,376.83 L109.90,376.83 L110.30,376.83 L110.70,376.83 L111.10,376.83 L111.50,376.83 L111.90,376.82 L112.30,376.82 L112.70,376.82 L113.10,376.82 L113.50,376.82 L113.90,376.82 L114.30,376.82 L114.70,376.82 L115.10,376.82 L115.50,376.81 L115.90,376.81 L116.30,376.81 L116.70,376.81 L117.10,376.81 L117.50,376.81 L117.90,376.81 L118.30,376.81 L118.70,376.80 L119.10,376.80 L119.50,376.80 L119.90,376.80 L120.00,376.80 L120.30,376.80 L120.70,376.80 L121.10,376.80 L121.50,376.79 L121.90,376.79 L122.30,376.79 L122.70,376.78 L123.10,376.78 L123.50,376.78 L123.90,376.77 L124.30,376.77 L124.70,376.76 L125.10,376.76 L125.50,376.75 L125.90,376.74 L126.30,376.74 L126.70,376.73 L127.10,376.72 L127.50,376.71 L127.90,376.70 L128.30,376.69 L128.70,376.68 L129.10,376.67 L129.50,376.65 L129.90,376.64 L130.30,376.63 L130.70,376.61 L131.00,376.60 L131.10,376.59 L131.50,376.54 L131.90,376.45 L132.30,376.34 L132.70,376.23 L133.10,376.12 L133.50,376.04 L133.90,376.00 L134.00,376.00 L134.30,376.01 L134.70,376.07 L135.10,376.15 L135.50,376.25 L135.90,376.35 L136.30,376.43 L136.70,376.49 L137.00,376.50 L137.10,376.50 L137.50,376.50 L137.90,376.50 L138.30,376.50 L138.70,376.50 L139.10,376.50 L139.50,376.50 L139.90,376.50 L140.30,376.50 L140.70,376.50 L141.10,376.50 L141.50,376.50 L141.90,376.50 L142.30,376.50 L142.70,376.50 L143.10,376.50 L143.50,376.50 L143.90,376.50 L144.30,376.50 L144.70,376.50 L145.10,376.50 L145.50,376.50 L145.90,376.50 L146.30,376.50 L146.70,376.50 L147.10,376.50 L147.50,376.50 L147.90,376.50 L148.30,376.50 L148.70,376.50 L149.10,376.50 L149.50,376.50 L149.90,376.50 L150.00,376.50 L150.30,376.50 L150.70,376.49 L151.10,376.48 L151.50,376.47 L151.90,376.46 L152.30,376.44 L152.70,376.42 L153.10,376.40 L153.50,376.37 L153.90,376.35 L154.30,376.32 L154.70,376.30 L155.10,376.27 L155.50,376.25 L155.90,376.23 L156.30,376.21 L156.50,376.20 L156.70,376.19 L157.10,376.18 L157.50,376.16 L157.90,376.15 L158.30,376.14 L158.70,376.12 L159.10,376.11 L159.50,376.09 L159.90,376.07 L160.30,376.05 L160.70,376.02 L161.00,376.00 L161.10,375.99 L161.50,375.93 L161.90,375.83 L162.30,375.71 L162.70,375.57 L163.10,375.44 L163.50,375.30 L163.50,375.30 L163.90,375.14 L164.30,374.94 L164.70,374.74 L165.10,374.59 L165.50,374.50 L165.60,374.50 L165.90,374.54 L166.30,374.69 L166.70,374.90 L167.10,375.12 L167.50,375.30 L167.50,375.30 L167.90,375.44 L168.30,375.59 L168.70,375.73 L169.10,375.85 L169.50,375.94 L169.90,375.99 L170.00,376.00 L170.30,376.01 L170.70,376.02 L171.10,376.04 L171.50,376.05 L171.90,376.06 L172.30,376.07 L172.70,376.08 L173.10,376.08 L173.50,376.09 L173.90,376.09 L174.30,376.10 L174.70,376.10 L175.10,376.10 L175.50,376.10 L175.50,376.10 L175.90,376.07 L176.20,376.00 L176.30,375.79 L176.70,372.84 L176.80,372.00 L177.10,369.11 L177.50,364.50 L177.90,360.64 L178.00,360.00 L178.30,358.36 L178.70,356.55 L179.10,355.80 L179.10,355.80 L179.50,356.22 L179.90,357.19 L180.20,358.00 L180.30,358.27 L180.70,359.65 L181.10,361.32 L181.50,363.05 L181.90,364.65 L182.00,365.00 L182.30,366.02 L182.70,367.36 L183.10,368.63 L183.50,369.78 L183.90,370.78 L184.00,371.00 L184.30,371.63 L184.70,372.42 L185.10,373.13 L185.50,373.74 L185.90,374.21 L186.00,374.30 L186.30,374.56 L186.70,374.86 L187.10,375.12 L187.50,375.33 L187.90,375.48 L188.00,375.50 L188.30,375.57 L188.70,375.65 L189.10,375.72 L189.50,375.79 L189.90,375.85 L190.30,375.90 L190.70,375.94 L191.10,375.97 L191.50,375.99 L191.90,376.00 L192.00,376.00 L192.30,376.00 L192.70,376.00 L193.10,376.00 L193.50,376.00 L193.90,376.00 L194.30,376.00 L194.70,376.00 L195.10,376.00 L195.50,376.00 L195.90,376.00 L196.30,376.00 L196.70,376.00 L197.10,376.00 L197.50,376.00 L197.90,376.00 L198.30,376.00 L198.70,376.00 L199.10,376.00 L199.50,376.00 L199.90,376.00 L200.30,376.00 L200.70,376.00 L201.10,376.00 L201.50,376.00 L201.90,376.00 L202.30,376.00 L202.70,376.00 L203.10,376.00 L203.50,376.00 L203.90,376.00 L204.30,376.00 L204.70,376.00 L205.10,376.00 L205.50,376.00 L205.90,376.00 L206.30,376.00 L206.70,376.00 L207.10,376.00 L207.50,376.00 L207.90,376.00 L208.30,376.00 L208.70,376.00 L209.10,376.00 L209.50,376.00 L209.90,376.00 L210.30,376.00 L210.70,376.00 L211.10,376.00 L211.50,376.00 L211.90,376.00 L212.30,376.00 L212.70,376.00 L213.00,376.00 L213.10,376.00 L213.50,375.99 L213.90,375.96 L214.30,375.91 L214.70,375.85 L215.10,375.78 L215.50,375.70 L215.90,375.61 L216.30,375.50 L216.70,375.39 L217.10,375.28 L217.50,375.16 L217.90,375.03 L218.00,375.00 L218.30,374.90 L218.70,374.73 L219.10,374.53 L219.50,374.30 L219.90,374.01 L220.30,373.68 L220.60,373.40 L220.70,373.29 L221.10,372.74 L221.50,371.96 L221.90,370.94 L222.20,370.00 L222.30,369.63 L222.70,367.34 L222.90,365.70 L223.10,363.60 L223.50,357.05 L223.90,345.90 L223.90,345.90 L224.30,308.32 L224.40,300.00 L224.70,282.02 L225.10,264.63 L225.20,262.00 L225.50,255.77 L225.90,251.70 L225.90,251.70 L226.30,255.85 L226.60,262.00 L226.70,264.67 L227.10,282.26 L227.50,300.00 L227.50,300.00 L227.90,311.89 L228.30,322.11 L228.70,331.40 L229.00,338.20 L229.10,340.56 L229.50,350.57 L229.90,358.84 L230.10,361.20 L230.30,362.67 L230.70,365.17 L231.10,367.10 L231.50,368.51 L231.90,369.44 L232.00,369.60 L232.30,370.03 L232.70,370.54 L233.10,370.99 L233.50,371.36 L233.90,371.68 L234.30,371.92 L234.70,372.09 L235.10,372.20 L235.10,372.20 L235.50,372.27 L235.90,372.33 L236.30,372.39 L236.70,372.43 L237.10,372.47 L237.50,372.49 L237.90,372.50 L238.00,372.50 L238.30,372.49 L238.70,372.46 L239.10,372.42 L239.50,372.36 L239.90,372.31 L240.30,372.26 L240.70,372.22 L241.10,372.20 L241.20,372.20 L241.50,372.21 L241.90,372.25 L242.30,372.31 L242.70,372.39 L243.10,372.49 L243.50,372.60 L243.90,372.72 L244.30,372.84 L244.70,372.97 L245.10,373.08 L245.50,373.19 L245.90,373.28 L246.00,373.30 L246.30,373.36 L246.70,373.44 L247.10,373.51 L247.50,373.59 L247.90,373.66 L248.30,373.73 L248.70,373.80 L249.10,373.87 L249.50,373.93 L249.90,374.00 L250.30,374.06 L250.70,374.12 L251.10,374.18 L251.20,374.20 L251.50,374.25 L251.90,374.31 L252.30,374.37 L252.70,374.43 L253.10,374.48 L253.50,374.54 L253.90,374.60 L254.30,374.66 L254.70,374.71 L255.10,374.77 L255.50,374.82 L255.90,374.87 L256.30,374.92 L256.70,374.97 L257.10,375.01 L257.50,375.05 L257.90,375.09 L258.00,375.10 L258.30,375.13 L258.70,375.16 L259.10,375.20 L259.50,375.23 L259.90,375.27 L260.30,375.30 L260.70,375.33 L261.10,375.36 L261.50,375.39 L261.90,375.42 L262.30,375.45 L262.70,375.48 L263.10,375.51 L263.50,375.53 L263.90,375.56 L264.30,375.58 L264.70,375.61 L265.10,375.63 L265.50,375.65 L265.90,375.67 L266.30,375.69 L266.50,375.70 L266.70,375.71 L267.10,375.73 L267.50,375.75 L267.90,375.77 L268.30,375.79 L268.70,375.81 L269.10,375.83 L269.50,375.84 L269.90,375.86 L270.30,375.88 L270.70,375.90 L271.10,375.91 L271.50,375.93 L271.90,375.94 L272.30,375.96 L272.70,375.97 L273.10,375.98 L273.50,375.99 L273.90,375.99 L274.30,376.00 L274.70,376.00 L275.00,376.00 L275.10,376.00 L275.50,375.99 L275.90,375.97 L276.30,375.95 L276.70,375.92 L277.10,375.89 L277.50,375.85 L277.90,375.81 L278.30,375.78 L278.70,375.75 L279.10,375.73 L279.50,375.71 L279.90,375.70 L280.00,375.70 L280.30,375.70 L280.70,375.71 L281.10,375.73 L281.50,375.76 L281.90,375.79 L282.30,375.82 L282.70,375.86 L283.10,375.89 L283.50,375.92 L283.90,375.95 L284.30,375.98 L284.70,375.99 L285.00,376.00 L285.10,376.00 L285.50,376.01 L285.90,376.01 L286.30,376.02 L286.70,376.02 L287.10,376.03 L287.50,376.03 L287.90,376.04 L288.30,376.04 L288.70,376.05 L289.10,376.05 L289.50,376.06 L289.90,376.06 L290.30,376.07 L290.70,376.07 L291.10,376.08 L291.50,376.08 L291.90,376.08 L292.30,376.09 L292.70,376.09 L293.10,376.10 L293.50,376.10 L293.90,376.10 L294.30,376.11 L294.70,376.11 L295.10,376.11 L295.50,376.12 L295.90,376.12 L296.30,376.12 L296.70,376.13 L297.10,376.13 L297.50,376.13 L297.90,376.14 L298.30,376.14 L298.70,376.14 L299.10,376.14 L299.50,376.15 L299.90,376.15 L300.30,376.15 L300.70,376.15 L301.10,376.16 L301.50,376.16 L301.90,376.16 L302.30,376.16 L302.70,376.17 L303.10,376.17 L303.50,376.17 L303.90,376.17 L304.30,376.17 L304.70,376.18 L305.10,376.18 L305.50,376.18 L305.90,376.18 L306.30,376.18 L306.70,376.18 L307.10,376.18 L307.50,376.19 L307.90,376.19 L308.30,376.19 L308.70,376.19 L309.10,376.19 L309.50,376.19 L309.90,376.19 L310.30,376.19 L310.70,376.19 L311.10,376.19 L311.50,376.20 L311.90,376.20 L312.30,376.20 L312.70,376.20 L313.10,376.20 L313.50,376.20 L313.90,376.20 L314.30,376.20 L314.70,376.20 L315.10,376.20 L315.50,376.20 L315.90,376.20 L316.30,376.20 L316.70,376.20 L317.00,376.20 L317.10,376.20 L317.50,376.10 L317.90,375.90 L318.30,375.67 L318.70,375.44 L319.10,375.27 L319.50,375.20 L319.50,375.20 L319.90,375.27 L320.30,375.44 L320.70,375.67 L321.10,375.90 L321.50,376.09 L321.90,376.19 L322.00,376.20 L322.30,376.20 L322.70,376.21 L323.10,376.22 L323.50,376.22 L323.90,376.23 L324.30,376.23 L324.70,376.24 L325.10,376.24 L325.50,376.25 L325.90,376.25 L326.30,376.26 L326.70,376.26 L327.10,376.27 L327.50,376.27 L327.90,376.28 L328.30,376.28 L328.70,376.29 L329.10,376.29 L329.50,376.29 L329.90,376.30 L330.30,376.30 L330.70,376.31 L331.10,376.31 L331.50,376.32 L331.90,376.32 L332.30,376.32 L332.70,376.33 L333.10,376.33 L333.50,376.34 L333.90,376.34 L334.30,376.34 L334.70,376.35 L335.10,376.35 L335.50,376.35 L335.90,376.36 L336.30,376.36 L336.70,376.36 L337.10,376.37 L337.50,376.37 L337.90,376.37 L338.30,376.38 L338.70,376.38 L339.10,376.38 L339.50,376.39 L339.90,376.39 L340.30,376.39 L340.70,376.40 L341.10,376.40 L341.50,376.40 L341.90,376.40 L342.30,376.41 L342.70,376.41 L343.10,376.41 L343.50,376.41 L343.90,376.42 L344.30,376.42 L344.70,376.42 L345.10,376.42 L345.50,376.43 L345.90,376.43 L346.30,376.43 L346.70,376.43 L347.10,376.43 L347.50,376.44 L347.90,376.44 L348.30,376.44 L348.70,376.44 L349.10,376.44 L349.50,376.45 L349.90,376.45 L350.30,376.45 L350.70,376.45 L351.10,376.45 L351.50,376.45 L351.90,376.46 L352.30,376.46 L352.70,376.46 L353.10,376.46 L353.50,376.46 L353.90,376.46 L354.30,376.47 L354.70,376.47 L355.10,376.47 L355.50,376.47 L355.90,376.47 L356.30,376.47 L356.70,376.47 L357.10,376.47 L357.50,376.47 L357.90,376.48 L358.30,376.48 L358.70,376.48 L359.10,376.48 L359.50,376.48 L359.90,376.48 L360.30,376.48 L360.70,376.48 L361.10,376.48 L361.50,376.48 L361.90,376.49 L362.30,376.49 L362.70,376.49 L363.10,376.49 L363.50,376.49 L363.90,376.49 L364.30,376.49 L364.70,376.49 L365.10,376.49 L365.50,376.49 L365.90,376.49 L366.30,376.49 L366.70,376.49 L367.10,376.49 L367.50,376.49 L367.90,376.49 L368.30,376.49 L368.70,376.50 L369.10,376.50 L369.50,376.50 L369.90,376.50 L370.30,376.50 L370.70,376.50 L371.10,376.50 L371.50,376.50 L371.90,376.50 L372.30,376.50 L372.70,376.50 L373.10,376.50 L373.50,376.50 L373.90,376.50 L374.30,376.50 L374.70,376.50 L375.10,376.50 L375.50,376.50 L375.90,376.50 L376.30,376.50 L376.70,376.50 L377.10,376.50 L377.50,376.50 L377.90,376.50 L378.30,376.50 L378.70,376.50 L379.10,376.50 L379.50,376.50 L379.90,376.50 L380.30,376.50 L380.70,376.50 L381.10,376.50 L381.50,376.50" fill="none" stroke="#505050" stroke-width="0.8" stroke-linejoin="round"/>
<line x1="38.70" y1="439.70" x2="38.70" y2="566.70" stroke="#777" stroke-width="1"/>
<line x1="38.20" y1="566.20" x2="382.00" y2="566.20" stroke="#777" stroke-width="1"/>
<path d="M35.30,564.50H38.70M36.90,562.01H38.70M36.90,559.53H38.70M36.90,557.04H38.70M36.90,554.56H38.70M35.30,552.07H38.70M36.90,549.58H38.70M36.90,547.10H38.70M36.90,544.61H38.70M36.90,542.13H38.70M35.30,539.64H38.70M36.90,537.15H38.70M36.90,534.67H38.70M36.90,532.18H38.70M36.90,529.70H38.70M35.30,527.21H38.70M36.90,524.72H38.70M36.90,522.24H38.70M36.90,519.75H38.70M36.90,517.27H38.70M35.30,514.78H38.70M36.90,512.29H38.70M36.90,509.81H38.70M36.90,507.32H38.70M36.90,504.84H38.70M35.30,502.35H38.70M36.90,499.86H38.70M36.90,497.38H38.70M36.90,494.89H38.70M36.90,492.41H38.70M35.30,489.92H38.70M36.90,487.43H38.70M36.90,484.95H38.70M36.90,482.46H38.70M36.90,479.98H38.70M35.30,477.49H38.70M36.90,475.00H38.70M36.90,472.52H38.70M36.90,470.03H38.70M36.90,467.55H38.70M35.30,465.06H38.70M36.90,462.57H38.70M36.90,460.09H38.70M36.90,457.60H38.70M36.90,455.12H38.70M35.30,452.63H38.70M36.90,450.14H38.70M36.90,447.66H38.70M36.90,445.17H38.70M36.90,442.69H38.70M35.30,440.20H38.70" stroke="#555" stroke-width="0.9" fill="none"/>
<path d="M38.70,566.60V570.30M42.98,566.60V569.20M47.27,566.60V569.20M51.56,566.60V569.20M55.84,566.60V569.20M60.12,566.60V570.30M64.41,566.60V569.20M68.69,566.60V569.20M72.98,566.60V569.20M77.27,566.60V569.20M81.55,566.60V570.30M85.84,566.60V569.20M90.12,566.60V569.20M94.41,566.60V569.20M98.69,566.60V569.20M102.98,566.60V570.30M107.26,566.60V569.20M111.55,566.60V569.20M115.83,566.60V569.20M120.11,566.60V569.20M124.40,566.60V570.30M128.69,566.60V569.20M132.97,566.60V569.20M137.25,566.60V569.20M141.54,566.60V569.20M145.82,566.60V570.30M150.11,566.60V569.20M154.40,566.60V569.20M158.68,566.60V569.20M162.97,566.60V569.20M167.25,566.60V570.30M171.54,566.60V569.20M175.82,566.60V569.20M180.11,566.60V569.20M184.39,566.60V569.20M188.68,566.60V570.30M192.96,566.60V569.20M197.25,566.60V569.20M201.53,566.60V569.20M205.81,566.60V569.20M210.10,566.60V570.30M214.38,566.60V569.20M218.67,566.60V569.20M222.95,566.60V569.20M227.24,566.60V569.20M231.52,566.60V570.30M235.81,566.60V569.20M240.10,566.60V569.20M244.38,566.60V569.20M248.67,566.60V569.20M252.95,566.60V570.30M257.24,566.60V569.20M261.52,566.60V569.20M265.81,566.60V569.20M270.09,566.60V569.20M274.38,566.60V570.30M278.66,566.60V569.20M282.95,566.60V569.20M287.23,566.60V569.20M291.51,566.60V569.20M295.80,566.60V570.30M300.08,566.60V569.20M304.37,566.60V569.20M308.66,566.60V569.20M312.94,566.60V569.20M317.22,566.60V570.30M321.51,566.60V569.20M325.80,566.60V569.20M330.08,566.60V569.20M334.37,566.60V569.20M338.65,566.60V570.30M342.94,566.60V569.20M347.22,566.60V569.20M351.50,566.60V569.20M355.79,566.60V569.20M360.07,566.60V570.30M364.36,566.60V569.20M368.65,566.60V569.20M372.93,566.60V569.20M377.21,566.60V569.20M381.50,566.60V570.30" stroke="#555" stroke-width="0.9" fill="none"/>
<text transform="translate(33.50,570.40) scale(0.96,1)" font-size="9.0" text-anchor="end" fill="#111" stroke="#111" stroke-width="0.3" id="t82">0</text>
<text transform="translate(33.50,557.97) scale(0.96,1)" font-size="9.0" text-anchor="end" fill="#111" stroke="#111" stroke-width="0.3" id="t83">10</text>
<text transform="translate(33.50,545.54) scale(0.96,1)" font-size="9.0" text-anchor="end" fill="#111" stroke="#111" stroke-width="0.3" id="t84">20</text>
<text transform="translate(33.50,533.11) scale(0.96,1)" font-size="9.0" text-anchor="end" fill="#111" stroke="#111" stroke-width="0.3" id="t85">30</text>
<text transform="translate(33.50,520.68) scale(0.96,1)" font-size="9.0" text-anchor="end" fill="#111" stroke="#111" stroke-width="0.3" id="t86">40</text>
<text transform="translate(33.50,508.25) scale(0.96,1)" font-size="9.0" text-anchor="end" fill="#111" stroke="#111" stroke-width="0.3" id="t87">50</text>
<text transform="translate(33.50,495.82) scale(0.96,1)" font-size="9.0" text-anchor="end" fill="#111" stroke="#111" stroke-width="0.3" id="t88">60</text>
<text transform="translate(33.50,483.39) scale(0.96,1)" font-size="9.0" text-anchor="end" fill="#111" stroke="#111" stroke-width="0.3" id="t89">70</text>
<text transform="translate(33.50,470.96) scale(0.96,1)" font-size="9.0" text-anchor="end" fill="#111" stroke="#111" stroke-width="0.3" id="t90">80</text>
<text transform="translate(33.50,458.53) scale(0.96,1)" font-size="9.0" text-anchor="end" fill="#111" stroke="#111" stroke-width="0.3" id="t91">90</text>
<text transform="translate(33.50,446.10) scale(0.96,1)" font-size="9.0" text-anchor="end" fill="#111" stroke="#111" stroke-width="0.3" id="t92">100</text>
<text transform="translate(40.30,579.00) scale(0.96,1)" font-size="9.0" text-anchor="middle" fill="#111" stroke="#111" stroke-width="0.3" id="t93">15</text>
<text transform="translate(61.73,579.00) scale(0.96,1)" font-size="9.0" text-anchor="middle" fill="#111" stroke="#111" stroke-width="0.3" id="t94">16</text>
<text transform="translate(83.15,579.00) scale(0.96,1)" font-size="9.0" text-anchor="middle" fill="#111" stroke="#111" stroke-width="0.3" id="t95">17</text>
<text transform="translate(104.58,579.00) scale(0.96,1)" font-size="9.0" text-anchor="middle" fill="#111" stroke="#111" stroke-width="0.3" id="t96">18</text>
<text transform="translate(126.00,579.00) scale(0.96,1)" font-size="9.0" text-anchor="middle" fill="#111" stroke="#111" stroke-width="0.3" id="t97">19</text>
<text transform="translate(147.42,579.00) scale(0.96,1)" font-size="9.0" text-anchor="middle" fill="#111" stroke="#111" stroke-width="0.3" id="t98">20</text>
<text transform="translate(168.85,579.00) scale(0.96,1)" font-size="9.0" text-anchor="middle" fill="#111" stroke="#111" stroke-width="0.3" id="t99">21</text>
<text transform="translate(190.28,579.00) scale(0.96,1)" font-size="9.0" text-anchor="middle" fill="#111" stroke="#111" stroke-width="0.3" id="t100">22</text>
<text transform="translate(211.70,579.00) scale(0.96,1)" font-size="9.0" text-anchor="middle" fill="#111" stroke="#111" stroke-width="0.3" id="t101">23</text>
<text transform="translate(233.13,579.00) scale(0.96,1)" font-size="9.0" text-anchor="middle" fill="#111" stroke="#111" stroke-width="0.3" id="t102">24</text>
<text transform="translate(254.55,579.00) scale(0.96,1)" font-size="9.0" text-anchor="middle" fill="#111" stroke="#111" stroke-width="0.3" id="t103">25</text>
<text transform="translate(275.98,579.00) scale(0.96,1)" font-size="9.0" text-anchor="middle" fill="#111" stroke="#111" stroke-width="0.3" id="t104">26</text>
<text transform="translate(297.40,579.00) scale(0.96,1)" font-size="9.0" text-anchor="middle" fill="#111" stroke="#111" stroke-width="0.3" id="t105">27</text>
<text transform="translate(318.83,579.00) scale(0.96,1)" font-size="9.0" text-anchor="middle" fill="#111" stroke="#111" stroke-width="0.3" id="t106">28</text>
<text transform="translate(340.25,579.00) scale(0.96,1)" font-size="9.0" text-anchor="middle" fill="#111" stroke="#111" stroke-width="0.3" id="t107">29</text>
<text transform="translate(361.68,579.00) scale(0.96,1)" font-size="9.0" text-anchor="middle" fill="#111" stroke="#111" stroke-width="0.3" id="t108">30</text>
<text transform="translate(383.10,579.00) scale(0.96,1)" font-size="9.0" text-anchor="middle" fill="#111" stroke="#111" stroke-width="0.3" id="t109">31</text>
<text transform="translate(1.00,416.40)" font-size="17.5" font-weight="bold" fill="#111" stroke="#111" stroke-width="0.3" id="t110">c</text>
<text transform="translate(17.60,429.60) scale(1.118,1)" font-size="11.0" font-weight="bold" fill="#111" stroke="#111" stroke-width="0.3" id="t111">5 mmol/L DTT, 4 °C, 30 min</text>
<text transform="translate(213.90,424.80) scale(1.075,1)" font-size="12.6" font-weight="bold" fill="#111" stroke="#111" stroke-width="0.3" id="t112">rHC</text>
<text transform="translate(216.50,437.80) scale(1.05,1)" font-size="8.8" fill="#1a1a1a" stroke="#1a1a1a" stroke-width="0.12" id="t113">23.69</text>
<text transform="translate(168.40,528.70) scale(1.075,1)" font-size="12.6" font-weight="bold" fill="#111" stroke="#111" stroke-width="0.3" id="t114">rLC</text>
<text transform="translate(169.30,541.20) scale(1.05,1)" font-size="8.8" fill="#1a1a1a" stroke="#1a1a1a" stroke-width="0.12" id="t115">21.52</text>
<path d="M47.50,565.30 L47.90,565.30 L48.30,565.30 L48.70,565.30 L49.10,565.30 L49.50,565.30 L49.90,565.29 L50.30,565.29 L50.70,565.29 L51.10,565.29 L51.50,565.29 L51.90,565.29 L52.30,565.29 L52.70,565.29 L53.10,565.29 L53.50,565.28 L53.90,565.28 L54.30,565.28 L54.70,565.28 L55.10,565.28 L55.50,565.28 L55.90,565.28 L56.30,565.28 L56.70,565.28 L57.10,565.27 L57.50,565.27 L57.90,565.27 L58.30,565.27 L58.70,565.27 L59.10,565.27 L59.50,565.27 L59.90,565.27 L60.30,565.26 L60.70,565.26 L61.10,565.26 L61.50,565.26 L61.90,565.26 L62.30,565.26 L62.70,565.26 L63.10,565.25 L63.50,565.25 L63.90,565.25 L64.30,565.25 L64.70,565.25 L65.10,565.25 L65.50,565.25 L65.90,565.25 L66.30,565.24 L66.70,565.24 L67.10,565.24 L67.50,565.24 L67.90,565.24 L68.30,565.24 L68.70,565.24 L69.10,565.23 L69.50,565.23 L69.90,565.23 L70.30,565.23 L70.70,565.23 L71.10,565.23 L71.50,565.23 L71.90,565.22 L72.30,565.22 L72.70,565.22 L73.10,565.22 L73.50,565.22 L73.90,565.22 L74.30,565.21 L74.70,565.21 L75.10,565.21 L75.50,565.21 L75.90,565.21 L76.30,565.21 L76.70,565.21 L77.10,565.20 L77.50,565.20 L77.90,565.20 L78.30,565.20 L78.70,565.20 L79.10,565.20 L79.50,565.19 L79.90,565.19 L80.30,565.19 L80.70,565.19 L81.10,565.19 L81.50,565.19 L81.90,565.18 L82.30,565.18 L82.70,565.18 L83.10,565.18 L83.50,565.18 L83.90,565.18 L84.30,565.17 L84.70,565.17 L85.10,565.17 L85.50,565.17 L85.90,565.17 L86.30,565.16 L86.70,565.16 L87.10,565.16 L87.50,565.16 L87.90,565.16 L88.30,565.16 L88.70,565.15 L89.10,565.15 L89.50,565.15 L89.90,565.15 L90.30,565.15 L90.70,565.15 L91.10,565.14 L91.50,565.14 L91.90,565.14 L92.30,565.14 L92.70,565.14 L93.10,565.13 L93.50,565.13 L93.90,565.13 L94.30,565.13 L94.70,565.13 L95.10,565.13 L95.50,565.12 L95.90,565.12 L96.30,565.12 L96.70,565.12 L97.10,565.12 L97.50,565.11 L97.90,565.11 L98.30,565.11 L98.70,565.11 L99.10,565.11 L99.50,565.10 L99.90,565.10 L100.30,565.10 L100.70,565.10 L101.10,565.10 L101.50,565.09 L101.90,565.09 L102.30,565.09 L102.70,565.09 L103.10,565.09 L103.50,565.08 L103.90,565.08 L104.30,565.08 L104.70,565.08 L105.10,565.08 L105.50,565.07 L105.90,565.07 L106.30,565.07 L106.70,565.07 L107.10,565.07 L107.50,565.06 L107.90,565.06 L108.30,565.06 L108.70,565.06 L109.10,565.06 L109.50,565.05 L109.90,565.05 L110.30,565.05 L110.70,565.05 L111.10,565.05 L111.50,565.04 L111.90,565.04 L112.30,565.04 L112.70,565.04 L113.10,565.04 L113.50,565.03 L113.90,565.03 L114.30,565.03 L114.70,565.03 L115.10,565.03 L115.50,565.02 L115.90,565.02 L116.30,565.02 L116.70,565.02 L117.10,565.02 L117.50,565.01 L117.90,565.01 L118.30,565.01 L118.70,565.01 L119.10,565.00 L119.50,565.00 L119.90,565.00 L120.00,565.00 L120.30,565.00 L120.70,565.00 L121.10,564.99 L121.50,564.99 L121.90,564.99 L122.30,564.99 L122.70,564.99 L123.10,564.99 L123.50,564.98 L123.90,564.98 L124.30,564.98 L124.70,564.98 L125.10,564.98 L125.50,564.98 L125.90,564.97 L126.30,564.97 L126.70,564.97 L127.10,564.97 L127.50,564.97 L127.90,564.97 L128.30,564.97 L128.70,564.97 L129.10,564.96 L129.50,564.96 L129.90,564.96 L130.30,564.96 L130.70,564.96 L131.10,564.96 L131.50,564.96 L131.90,564.96 L132.30,564.96 L132.70,564.95 L133.10,564.95 L133.50,564.95 L133.90,564.95 L134.30,564.95 L134.70,564.95 L135.10,564.95 L135.50,564.95 L135.90,564.95 L136.30,564.95 L136.70,564.94 L137.10,564.94 L137.50,564.94 L137.90,564.94 L138.30,564.94 L138.70,564.94 L139.10,564.94 L139.50,564.94 L139.90,564.94 L140.30,564.94 L140.70,564.93 L141.10,564.93 L141.50,564.93 L141.90,564.93 L142.30,564.93 L142.70,564.93 L143.10,564.93 L143.50,564.93 L143.90,564.93 L144.30,564.92 L144.70,564.92 L145.10,564.92 L145.50,564.92 L145.90,564.92 L146.30,564.92 L146.70,564.92 L147.10,564.91 L147.50,564.91 L147.90,564.91 L148.30,564.91 L148.70,564.91 L149.10,564.91 L149.50,564.90 L149.90,564.90 L150.30,564.90 L150.70,564.90 L151.10,564.90 L151.50,564.89 L151.90,564.89 L152.30,564.89 L152.70,564.89 L153.10,564.89 L153.50,564.88 L153.90,564.88 L154.30,564.88 L154.70,564.88 L155.10,564.87 L155.50,564.87 L155.90,564.87 L156.30,564.86 L156.70,564.86 L157.10,564.86 L157.50,564.86 L157.90,564.85 L158.30,564.85 L158.70,564.85 L159.10,564.84 L159.50,564.84 L159.90,564.84 L160.30,564.83 L160.70,564.83 L161.10,564.82 L161.50,564.82 L161.90,564.82 L162.30,564.81 L162.70,564.81 L163.10,564.80 L163.50,564.80 L163.90,564.79 L164.30,564.79 L164.70,564.78 L165.10,564.78 L165.50,564.77 L165.90,564.77 L166.30,564.76 L166.70,564.76 L167.10,564.75 L167.50,564.75 L167.90,564.74 L168.30,564.74 L168.70,564.73 L169.10,564.72 L169.50,564.72 L169.90,564.71 L170.30,564.70 L170.70,564.70 L171.10,564.69 L171.50,564.68 L171.90,564.68 L172.30,564.67 L172.70,564.66 L173.10,564.66 L173.50,564.65 L173.90,564.64 L174.30,564.63 L174.70,564.62 L175.10,564.62 L175.50,564.61 L175.90,564.60 L175.90,564.60 L176.30,562.06 L176.50,560.00 L176.70,557.43 L177.10,551.07 L177.30,549.00 L177.50,547.76 L177.90,545.83 L178.20,545.30 L178.30,545.33 L178.70,545.88 L179.10,546.78 L179.20,547.00 L179.50,547.77 L179.90,549.09 L180.30,550.56 L180.70,552.02 L181.00,553.00 L181.10,553.30 L181.50,554.53 L181.90,555.74 L182.30,556.88 L182.70,557.87 L183.00,558.50 L183.10,558.69 L183.50,559.40 L183.90,560.06 L184.30,560.66 L184.70,561.19 L185.10,561.64 L185.50,562.00 L185.50,562.00 L185.90,562.31 L186.30,562.60 L186.70,562.88 L187.10,563.14 L187.50,563.37 L187.90,563.57 L188.30,563.74 L188.70,563.87 L189.10,563.97 L189.30,564.00 L189.50,564.03 L189.90,564.08 L190.30,564.12 L190.70,564.16 L191.10,564.20 L191.50,564.24 L191.90,564.27 L192.30,564.30 L192.70,564.33 L193.10,564.35 L193.50,564.37 L193.90,564.38 L194.30,564.39 L194.70,564.40 L195.00,564.40 L195.10,564.40 L195.50,564.40 L195.90,564.40 L196.30,564.40 L196.70,564.40 L197.10,564.40 L197.50,564.40 L197.90,564.40 L198.30,564.40 L198.70,564.40 L199.10,564.40 L199.50,564.40 L199.90,564.40 L200.30,564.39 L200.70,564.39 L201.10,564.39 L201.50,564.39 L201.90,564.39 L202.30,564.39 L202.70,564.39 L203.10,564.39 L203.50,564.39 L203.90,564.38 L204.30,564.38 L204.70,564.38 L205.10,564.38 L205.50,564.38 L205.90,564.38 L206.30,564.37 L206.70,564.37 L207.10,564.37 L207.50,564.37 L207.90,564.36 L208.30,564.36 L208.70,564.36 L209.10,564.36 L209.50,564.35 L209.90,564.35 L210.30,564.35 L210.70,564.34 L211.10,564.34 L211.50,564.34 L211.90,564.33 L212.30,564.33 L212.70,564.33 L213.10,564.32 L213.50,564.32 L213.90,564.31 L214.30,564.31 L214.70,564.30 L215.00,564.30 L215.10,564.30 L215.50,564.29 L215.90,564.27 L216.30,564.25 L216.70,564.22 L217.10,564.18 L217.50,564.13 L217.90,564.08 L218.30,564.02 L218.70,563.95 L219.10,563.88 L219.50,563.80 L219.50,563.80 L219.90,563.69 L220.30,563.53 L220.70,563.28 L221.10,562.93 L221.50,562.45 L221.80,562.00 L221.90,561.73 L222.30,558.77 L222.60,555.00 L222.70,553.15 L223.10,539.23 L223.30,530.00 L223.50,517.47 L223.90,486.22 L224.00,480.00 L224.30,462.44 L224.70,443.59 L224.90,440.50 L225.10,443.15 L225.50,458.22 L225.80,470.00 L225.90,473.14 L226.30,486.02 L226.70,497.93 L227.00,505.00 L227.10,506.90 L227.50,513.21 L227.90,518.62 L228.20,523.00 L228.30,524.65 L228.70,532.08 L229.10,539.47 L229.50,545.00 L229.50,545.00 L229.90,548.85 L230.30,552.24 L230.70,554.97 L231.10,556.85 L231.30,557.40 L231.50,557.80 L231.90,558.48 L232.30,559.05 L232.70,559.51 L233.10,559.89 L233.50,560.19 L233.90,560.44 L234.00,560.50 L234.30,560.66 L234.70,560.86 L235.10,561.04 L235.50,561.21 L235.90,561.36 L236.30,561.50 L236.70,561.63 L237.10,561.74 L237.50,561.85 L237.90,561.95 L238.30,562.05 L238.70,562.14 L239.00,562.20 L239.10,562.22 L239.50,562.30 L239.90,562.38 L240.30,562.46 L240.70,562.53 L241.10,562.60 L241.50,562.67 L241.90,562.74 L242.30,562.80 L242.70,562.87 L243.10,562.93 L243.50,562.98 L243.90,563.04 L244.30,563.09 L244.70,563.14 L245.10,563.19 L245.50,563.24 L245.90,563.29 L246.30,563.33 L246.70,563.37 L247.10,563.41 L247.50,563.45 L247.90,563.49 L248.00,563.50 L248.30,563.53 L248.70,563.56 L249.10,563.60 L249.50,563.64 L249.90,563.67 L250.30,563.71 L250.70,563.74 L251.10,563.78 L251.50,563.81 L251.90,563.84 L252.30,563.88 L252.70,563.91 L253.10,563.94 L253.50,563.97 L253.90,564.00 L254.30,564.02 L254.70,564.05 L255.10,564.08 L255.50,564.10 L255.90,564.13 L256.30,564.15 L256.70,564.17 L257.10,564.19 L257.50,564.21 L257.90,564.23 L258.30,564.25 L258.70,564.26 L259.10,564.27 L259.50,564.29 L259.90,564.30 L260.00,564.30 L260.30,564.31 L260.70,564.32 L261.10,564.33 L261.50,564.34 L261.90,564.34 L262.30,564.35 L262.70,564.36 L263.10,564.37 L263.50,564.38 L263.90,564.39 L264.30,564.40 L264.70,564.41 L265.10,564.42 L265.50,564.42 L265.90,564.43 L266.30,564.44 L266.70,564.45 L267.10,564.46 L267.50,564.46 L267.90,564.47 L268.30,564.48 L268.70,564.49 L269.10,564.50 L269.50,564.50 L269.90,564.51 L270.30,564.52 L270.70,564.53 L271.10,564.53 L271.50,564.54 L271.90,564.55 L272.30,564.55 L272.70,564.56 L273.10,564.57 L273.50,564.57 L273.90,564.58 L274.30,564.59 L274.70,564.59 L275.10,564.60 L275.50,564.61 L275.90,564.61 L276.30,564.62 L276.70,564.62 L277.10,564.63 L277.50,564.64 L277.90,564.64 L278.30,564.65 L278.70,564.65 L279.10,564.66 L279.50,564.66 L279.90,564.67 L280.30,564.67 L280.70,564.68 L281.10,564.68 L281.50,564.69 L281.90,564.69 L282.30,564.70 L282.70,564.70 L283.10,564.71 L283.50,564.71 L283.90,564.72 L284.30,564.72 L284.70,564.72 L285.10,564.73 L285.50,564.73 L285.90,564.73 L286.30,564.74 L286.70,564.74 L287.10,564.75 L287.50,564.75 L287.90,564.75 L288.30,564.75 L288.70,564.76 L289.10,564.76 L289.50,564.76 L289.90,564.77 L290.30,564.77 L290.70,564.77 L291.10,564.77 L291.50,564.78 L291.90,564.78 L292.30,564.78 L292.70,564.78 L293.10,564.78 L293.50,564.79 L293.90,564.79 L294.30,564.79 L294.70,564.79 L295.10,564.79 L295.50,564.79 L295.90,564.79 L296.30,564.80 L296.70,564.80 L297.10,564.80 L297.50,564.80 L297.90,564.80 L298.30,564.80 L298.70,564.80 L299.10,564.80 L299.50,564.80 L299.90,564.80 L300.00,564.80 L300.30,564.80 L300.70,564.80 L301.10,564.80 L301.50,564.80 L301.90,564.80 L302.30,564.80 L302.70,564.80 L303.10,564.80 L303.50,564.80 L303.90,564.80 L304.30,564.80 L304.70,564.80 L305.10,564.80 L305.50,564.80 L305.90,564.80 L306.30,564.80 L306.70,564.80 L307.10,564.80 L307.50,564.80 L307.90,564.80 L308.30,564.80 L308.70,564.80 L309.10,564.80 L309.50,564.80 L309.90,564.80 L310.30,564.80 L310.70,564.80 L311.10,564.80 L311.50,564.80 L311.90,564.80 L312.30,564.80 L312.70,564.80 L313.10,564.80 L313.50,564.80 L313.90,564.80 L314.30,564.80 L314.70,564.80 L315.10,564.80 L315.50,564.80 L315.90,564.80 L316.30,564.80 L316.70,564.80 L317.00,564.80 L317.10,564.79 L317.50,564.65 L317.90,564.39 L318.30,564.08 L318.70,563.80 L319.10,563.63 L319.30,563.60 L319.50,563.63 L319.90,563.82 L320.30,564.12 L320.70,564.44 L321.10,564.69 L321.50,564.80 L321.50,564.80 L321.90,564.80 L322.30,564.81 L322.70,564.81 L323.10,564.81 L323.50,564.82 L323.90,564.82 L324.30,564.83 L324.70,564.83 L325.10,564.83 L325.50,564.84 L325.90,564.84 L326.30,564.84 L326.70,564.85 L327.10,564.85 L327.50,564.85 L327.90,564.86 L328.30,564.86 L328.70,564.86 L329.10,564.86 L329.50,564.87 L329.90,564.87 L330.30,564.87 L330.70,564.88 L331.10,564.88 L331.50,564.88 L331.90,564.88 L332.30,564.89 L332.70,564.89 L333.10,564.89 L333.50,564.89 L333.90,564.90 L334.30,564.90 L334.70,564.90 L335.10,564.90 L335.50,564.91 L335.90,564.91 L336.30,564.91 L336.70,564.91 L337.10,564.92 L337.50,564.92 L337.90,564.92 L338.30,564.92 L338.70,564.92 L339.10,564.93 L339.50,564.93 L339.90,564.93 L340.30,564.93 L340.70,564.93 L341.10,564.93 L341.50,564.94 L341.90,564.94 L342.30,564.94 L342.70,564.94 L343.10,564.94 L343.50,564.95 L343.90,564.95 L344.30,564.95 L344.70,564.95 L345.10,564.95 L345.50,564.95 L345.90,564.95 L346.30,564.96 L346.70,564.96 L347.10,564.96 L347.50,564.96 L347.90,564.96 L348.30,564.96 L348.70,564.96 L349.10,564.96 L349.50,564.97 L349.90,564.97 L350.30,564.97 L350.70,564.97 L351.10,564.97 L351.50,564.97 L351.90,564.97 L352.30,564.97 L352.70,564.97 L353.10,564.98 L353.50,564.98 L353.90,564.98 L354.30,564.98 L354.70,564.98 L355.10,564.98 L355.50,564.98 L355.90,564.98 L356.30,564.98 L356.70,564.98 L357.10,564.98 L357.50,564.98 L357.90,564.99 L358.30,564.99 L358.70,564.99 L359.10,564.99 L359.50,564.99 L359.90,564.99 L360.30,564.99 L360.70,564.99 L361.10,564.99 L361.50,564.99 L361.90,564.99 L362.30,564.99 L362.70,564.99 L363.10,564.99 L363.50,564.99 L363.90,564.99 L364.30,564.99 L364.70,564.99 L365.10,564.99 L365.50,564.99 L365.90,565.00 L366.30,565.00 L366.70,565.00 L367.10,565.00 L367.50,565.00 L367.90,565.00 L368.30,565.00 L368.70,565.00 L369.10,565.00 L369.50,565.00 L369.90,565.00 L370.30,565.00 L370.70,565.00 L371.10,565.00 L371.50,565.00 L371.90,565.00 L372.30,565.00 L372.70,565.00 L373.10,565.00 L373.50,565.00 L373.90,565.00 L374.30,565.00 L374.70,565.00 L375.10,565.00 L375.50,565.00 L375.90,565.00 L376.30,565.00 L376.70,565.00 L377.10,565.00 L377.50,565.00 L377.90,565.00 L378.30,565.00 L378.70,565.00 L379.10,565.00 L379.50,565.00 L379.90,565.00 L380.30,565.00 L380.70,565.00 L381.10,565.00 L381.50,565.00" fill="none" stroke="#505050" stroke-width="0.8" stroke-linejoin="round"/>
<text transform="translate(198.00,595.00) scale(1.03,1)" font-size="11.6" fill="#111" stroke="#111" stroke-width="0.3" id="t116">Time (min)</text>
<text transform="translate(10.8,385.4) rotate(-90)" font-size="11.7" fill="#111" stroke="#111" stroke-width="0.3" xml:space="preserve" style="white-space:pre" id="trot">Relative  Absorbance</text>
<line x1="432.40" y1="65.20" x2="432.40" y2="192.90" stroke="#777" stroke-width="1"/>
<line x1="431.90" y1="192.40" x2="775.90" y2="192.40" stroke="#777" stroke-width="1"/>
<path d="M429.00,190.30H432.40M430.60,187.81H432.40M430.60,185.32H432.40M430.60,182.82H432.40M430.60,180.33H432.40M429.00,177.84H432.40M430.60,175.35H432.40M430.60,172.86H432.40M430.60,170.36H432.40M430.60,167.87H432.40M429.00,165.38H432.40M430.60,162.89H432.40M430.60,160.40H432.40M430.60,157.90H432.40M430.60,155.41H432.40M429.00,152.92H432.40M430.60,150.43H432.40M430.60,147.94H432.40M430.60,145.44H432.40M430.60,142.95H432.40M429.00,140.46H432.40M430.60,137.97H432.40M430.60,135.48H432.40M430.60,132.98H432.40M430.60,130.49H432.40M429.00,128.00H432.40M430.60,125.51H432.40M430.60,123.02H432.40M430.60,120.52H432.40M430.60,118.03H432.40M429.00,115.54H432.40M430.60,113.05H432.40M430.60,110.56H432.40M430.60,108.06H432.40M430.60,105.57H432.40M429.00,103.08H432.40M430.60,100.59H432.40M430.60,98.10H432.40M430.60,95.60H432.40M430.60,93.11H432.40M429.00,90.62H432.40M430.60,88.13H432.40M430.60,85.64H432.40M430.60,83.14H432.40M430.60,80.65H432.40M429.00,78.16H432.40M430.60,75.67H432.40M430.60,73.18H432.40M430.60,70.68H432.40M430.60,68.19H432.40M429.00,65.70H432.40" stroke="#555" stroke-width="0.9" fill="none"/>
<path d="M432.40,192.80V196.50M436.69,192.80V195.40M440.97,192.80V195.40M445.26,192.80V195.40M449.55,192.80V195.40M453.84,192.80V196.50M458.12,192.80V195.40M462.41,192.80V195.40M466.70,192.80V195.40M470.99,192.80V195.40M475.27,192.80V196.50M479.56,192.80V195.40M483.85,192.80V195.40M488.14,192.80V195.40M492.42,192.80V195.40M496.71,192.80V196.50M501.00,192.80V195.40M505.29,192.80V195.40M509.57,192.80V195.40M513.86,192.80V195.40M518.15,192.80V196.50M522.44,192.80V195.40M526.73,192.80V195.40M531.01,192.80V195.40M535.30,192.80V195.40M539.59,192.80V196.50M543.88,192.80V195.40M548.16,192.80V195.40M552.45,192.80V195.40M556.74,192.80V195.40M561.02,192.80V196.50M565.31,192.80V195.40M569.60,192.80V195.40M573.89,192.80V195.40M578.17,192.80V195.40M582.46,192.80V196.50M586.75,192.80V195.40M591.04,192.80V195.40M595.33,192.80V195.40M599.61,192.80V195.40M603.90,192.80V196.50M608.19,192.80V195.40M612.47,192.80V195.40M616.76,192.80V195.40M621.05,192.80V195.40M625.34,192.80V196.50M629.62,192.80V195.40M633.91,192.80V195.40M638.20,192.80V195.40M642.49,192.80V195.40M646.77,192.80V196.50M651.06,192.80V195.40M655.35,192.80V195.40M659.64,192.80V195.40M663.92,192.80V195.40M668.21,192.80V196.50M672.50,192.80V195.40M676.79,192.80V195.40M681.08,192.80V195.40M685.36,192.80V195.40M689.65,192.80V196.50M693.94,192.80V195.40M698.22,192.80V195.40M702.51,192.80V195.40M706.80,192.80V195.40M711.09,192.80V196.50M715.38,192.80V195.40M719.66,192.80V195.40M723.95,192.80V195.40M728.24,192.80V195.40M732.52,192.80V196.50M736.81,192.80V195.40M741.10,192.80V195.40M745.39,192.80V195.40M749.67,192.80V195.40M753.96,192.80V196.50M758.25,192.80V195.40M762.54,192.80V195.40M766.83,192.80V195.40M771.11,192.80V195.40M775.40,192.80V196.50" stroke="#555" stroke-width="0.9" fill="none"/>
<text transform="translate(425.80,194.90) scale(0.96,1)" font-size="9.0" text-anchor="end" fill="#111" stroke="#111" stroke-width="0.3" id="t117">0</text>
<text transform="translate(425.80,182.44) scale(0.96,1)" font-size="9.0" text-anchor="end" fill="#111" stroke="#111" stroke-width="0.3" id="t118">10</text>
<text transform="translate(425.80,169.98) scale(0.96,1)" font-size="9.0" text-anchor="end" fill="#111" stroke="#111" stroke-width="0.3" id="t119">20</text>
<text transform="translate(425.80,157.52) scale(0.96,1)" font-size="9.0" text-anchor="end" fill="#111" stroke="#111" stroke-width="0.3" id="t120">30</text>
<text transform="translate(425.80,145.06) scale(0.96,1)" font-size="9.0" text-anchor="end" fill="#111" stroke="#111" stroke-width="0.3" id="t121">40</text>
<text transform="translate(425.80,132.60) scale(0.96,1)" font-size="9.0" text-anchor="end" fill="#111" stroke="#111" stroke-width="0.3" id="t122">50</text>
<text transform="translate(425.80,120.14) scale(0.96,1)" font-size="9.0" text-anchor="end" fill="#111" stroke="#111" stroke-width="0.3" id="t123">60</text>
<text transform="translate(425.80,107.68) scale(0.96,1)" font-size="9.0" text-anchor="end" fill="#111" stroke="#111" stroke-width="0.3" id="t124">70</text>
<text transform="translate(425.80,95.22) scale(0.96,1)" font-size="9.0" text-anchor="end" fill="#111" stroke="#111" stroke-width="0.3" id="t125">80</text>
<text transform="translate(425.80,82.76) scale(0.96,1)" font-size="9.0" text-anchor="end" fill="#111" stroke="#111" stroke-width="0.3" id="t126">90</text>
<text transform="translate(425.80,70.30) scale(0.96,1)" font-size="9.0" text-anchor="end" fill="#111" stroke="#111" stroke-width="0.3" id="t127">100</text>
<text transform="translate(434.00,204.90) scale(0.96,1)" font-size="9.0" text-anchor="middle" fill="#111" stroke="#111" stroke-width="0.3" id="t128">15</text>
<text transform="translate(455.44,204.90) scale(0.96,1)" font-size="9.0" text-anchor="middle" fill="#111" stroke="#111" stroke-width="0.3" id="t129">16</text>
<text transform="translate(476.88,204.90) scale(0.96,1)" font-size="9.0" text-anchor="middle" fill="#111" stroke="#111" stroke-width="0.3" id="t130">17</text>
<text transform="translate(498.31,204.90) scale(0.96,1)" font-size="9.0" text-anchor="middle" fill="#111" stroke="#111" stroke-width="0.3" id="t131">18</text>
<text transform="translate(519.75,204.90) scale(0.96,1)" font-size="9.0" text-anchor="middle" fill="#111" stroke="#111" stroke-width="0.3" id="t132">19</text>
<text transform="translate(541.19,204.90) scale(0.96,1)" font-size="9.0" text-anchor="middle" fill="#111" stroke="#111" stroke-width="0.3" id="t133">20</text>
<text transform="translate(562.62,204.90) scale(0.96,1)" font-size="9.0" text-anchor="middle" fill="#111" stroke="#111" stroke-width="0.3" id="t134">21</text>
<text transform="translate(584.06,204.90) scale(0.96,1)" font-size="9.0" text-anchor="middle" fill="#111" stroke="#111" stroke-width="0.3" id="t135">22</text>
<text transform="translate(605.50,204.90) scale(0.96,1)" font-size="9.0" text-anchor="middle" fill="#111" stroke="#111" stroke-width="0.3" id="t136">23</text>
<text transform="translate(626.94,204.90) scale(0.96,1)" font-size="9.0" text-anchor="middle" fill="#111" stroke="#111" stroke-width="0.3" id="t137">24</text>
<text transform="translate(648.38,204.90) scale(0.96,1)" font-size="9.0" text-anchor="middle" fill="#111" stroke="#111" stroke-width="0.3" id="t138">25</text>
<text transform="translate(669.81,204.90) scale(0.96,1)" font-size="9.0" text-anchor="middle" fill="#111" stroke="#111" stroke-width="0.3" id="t139">26</text>
<text transform="translate(691.25,204.90) scale(0.96,1)" font-size="9.0" text-anchor="middle" fill="#111" stroke="#111" stroke-width="0.3" id="t140">27</text>
<text transform="translate(712.69,204.90) scale(0.96,1)" font-size="9.0" text-anchor="middle" fill="#111" stroke="#111" stroke-width="0.3" id="t141">28</text>
<text transform="translate(734.12,204.90) scale(0.96,1)" font-size="9.0" text-anchor="middle" fill="#111" stroke="#111" stroke-width="0.3" id="t142">29</text>
<text transform="translate(755.56,204.90) scale(0.96,1)" font-size="9.0" text-anchor="middle" fill="#111" stroke="#111" stroke-width="0.3" id="t143">30</text>
<text transform="translate(777.00,204.90) scale(0.96,1)" font-size="9.0" text-anchor="middle" fill="#111" stroke="#111" stroke-width="0.3" id="t144">31</text>
<text transform="translate(397.20,38.00)" font-size="17.5" font-weight="bold" fill="#111" stroke="#111" stroke-width="0.3" id="t145">d</text>
<text transform="translate(413.40,55.20) scale(1.118,1)" font-size="11.0" font-weight="bold" fill="#111" stroke="#111" stroke-width="0.3" id="t146">5 mmol/L DTT, 4 °C, 45 min</text>
<text transform="translate(608.50,47.80) scale(1.075,1)" font-size="12.6" font-weight="bold" fill="#111" stroke="#111" stroke-width="0.3" id="t147">rHC</text>
<text transform="translate(610.30,62.50) scale(1.05,1)" font-size="8.8" fill="#1a1a1a" stroke="#1a1a1a" stroke-width="0.12" id="t148">23.72</text>
<text transform="translate(563.40,156.70) scale(1.075,1)" font-size="12.6" font-weight="bold" fill="#111" stroke="#111" stroke-width="0.3" id="t149">rLC</text>
<text transform="translate(564.20,167.40) scale(1.05,1)" font-size="8.8" fill="#1a1a1a" stroke="#1a1a1a" stroke-width="0.12" id="t150">21.54</text>
<path d="M433.50,192.30 L433.90,192.30 L434.30,192.30 L434.70,192.30 L435.10,192.30 L435.50,192.30 L435.90,192.30 L436.30,192.30 L436.70,192.30 L437.10,192.30 L437.50,192.30 L437.90,192.30 L438.30,192.30 L438.70,192.30 L439.10,192.30 L439.50,192.30 L439.90,192.30 L440.30,192.30 L440.70,192.30 L441.10,192.30 L441.50,192.30 L441.90,192.30 L442.30,192.30 L442.70,192.30 L443.10,192.30 L443.50,192.30 L443.90,192.30 L444.30,192.30 L444.70,192.30 L445.10,192.30 L445.50,192.30 L445.90,192.30 L446.30,192.30 L446.70,192.30 L447.10,192.30 L447.50,192.30 L447.90,192.30 L448.30,192.30 L448.70,192.30 L449.10,192.30 L449.50,192.30 L449.90,192.30 L450.30,192.30 L450.70,192.30 L451.10,192.30 L451.50,192.30 L451.90,192.30 L452.30,192.30 L452.70,192.30 L453.10,192.30 L453.50,192.30 L453.90,192.30 L454.30,192.29 L454.70,192.29 L455.10,192.29 L455.50,192.29 L455.90,192.29 L456.30,192.29 L456.70,192.29 L457.10,192.29 L457.50,192.29 L457.90,192.29 L458.30,192.29 L458.70,192.29 L459.10,192.29 L459.50,192.29 L459.90,192.29 L460.30,192.29 L460.70,192.29 L461.10,192.29 L461.50,192.29 L461.90,192.29 L462.30,192.29 L462.70,192.29 L463.10,192.29 L463.50,192.29 L463.90,192.29 L464.30,192.29 L464.70,192.29 L465.10,192.29 L465.50,192.29 L465.90,192.28 L466.30,192.28 L466.70,192.28 L467.10,192.28 L467.50,192.28 L467.90,192.28 L468.30,192.28 L468.70,192.28 L469.10,192.28 L469.50,192.28 L469.90,192.28 L470.30,192.28 L470.70,192.28 L471.10,192.28 L471.50,192.28 L471.90,192.28 L472.30,192.28 L472.70,192.28 L473.10,192.27 L473.50,192.27 L473.90,192.27 L474.30,192.27 L474.70,192.27 L475.10,192.27 L475.50,192.27 L475.90,192.27 L476.30,192.27 L476.70,192.27 L477.10,192.27 L477.50,192.27 L477.90,192.27 L478.30,192.26 L478.70,192.26 L479.10,192.26 L479.50,192.26 L479.90,192.26 L480.30,192.26 L480.70,192.26 L481.10,192.26 L481.50,192.26 L481.90,192.26 L482.30,192.26 L482.70,192.26 L483.10,192.25 L483.50,192.25 L483.90,192.25 L484.30,192.25 L484.70,192.25 L485.10,192.25 L485.50,192.25 L485.90,192.25 L486.30,192.25 L486.70,192.24 L487.10,192.24 L487.50,192.24 L487.90,192.24 L488.30,192.24 L488.70,192.24 L489.10,192.24 L489.50,192.24 L489.90,192.24 L490.30,192.23 L490.70,192.23 L491.10,192.23 L491.50,192.23 L491.90,192.23 L492.30,192.23 L492.70,192.23 L493.10,192.23 L493.50,192.22 L493.90,192.22 L494.30,192.22 L494.70,192.22 L495.10,192.22 L495.50,192.22 L495.90,192.22 L496.30,192.21 L496.70,192.21 L497.10,192.21 L497.50,192.21 L497.90,192.21 L498.30,192.21 L498.70,192.21 L499.10,192.20 L499.50,192.20 L499.90,192.20 L500.00,192.20 L500.30,192.19 L500.70,192.18 L501.10,192.15 L501.50,192.11 L501.90,192.06 L502.30,192.01 L502.70,191.96 L503.10,191.90 L503.50,191.84 L503.90,191.78 L504.30,191.73 L504.70,191.69 L505.10,191.65 L505.50,191.62 L505.90,191.60 L506.00,191.60 L506.30,191.59 L506.70,191.59 L507.10,191.58 L507.50,191.57 L507.90,191.56 L508.30,191.56 L508.70,191.55 L509.10,191.54 L509.50,191.54 L509.90,191.53 L510.30,191.53 L510.70,191.52 L511.10,191.51 L511.50,191.51 L511.90,191.50 L512.30,191.50 L512.70,191.49 L513.10,191.49 L513.50,191.48 L513.90,191.48 L514.30,191.47 L514.70,191.47 L515.10,191.47 L515.50,191.46 L515.90,191.46 L516.30,191.45 L516.70,191.45 L517.10,191.45 L517.50,191.44 L517.90,191.44 L518.30,191.44 L518.70,191.43 L519.10,191.43 L519.50,191.43 L519.90,191.42 L520.30,191.42 L520.70,191.42 L521.10,191.42 L521.50,191.41 L521.90,191.41 L522.30,191.41 L522.70,191.41 L523.10,191.40 L523.50,191.40 L523.90,191.40 L524.30,191.40 L524.70,191.39 L525.10,191.39 L525.50,191.39 L525.90,191.39 L526.30,191.39 L526.70,191.38 L527.10,191.38 L527.50,191.38 L527.90,191.38 L528.30,191.38 L528.70,191.37 L529.10,191.37 L529.50,191.37 L529.90,191.37 L530.30,191.37 L530.70,191.36 L531.10,191.36 L531.50,191.36 L531.90,191.36 L532.30,191.36 L532.70,191.35 L533.10,191.35 L533.50,191.35 L533.90,191.35 L534.30,191.34 L534.70,191.34 L535.10,191.34 L535.50,191.34 L535.90,191.33 L536.30,191.33 L536.70,191.33 L537.10,191.32 L537.50,191.32 L537.90,191.32 L538.30,191.32 L538.70,191.31 L539.10,191.31 L539.50,191.30 L539.90,191.30 L540.00,191.30 L540.30,191.30 L540.70,191.29 L541.10,191.29 L541.50,191.29 L541.90,191.28 L542.30,191.28 L542.70,191.27 L543.10,191.27 L543.50,191.27 L543.90,191.26 L544.30,191.26 L544.70,191.25 L545.10,191.25 L545.50,191.25 L545.90,191.24 L546.30,191.24 L546.70,191.23 L547.10,191.23 L547.50,191.23 L547.90,191.22 L548.30,191.22 L548.70,191.21 L549.10,191.21 L549.50,191.21 L549.90,191.20 L550.30,191.20 L550.70,191.19 L551.10,191.19 L551.50,191.19 L551.90,191.18 L552.30,191.18 L552.70,191.17 L553.10,191.17 L553.50,191.17 L553.90,191.16 L554.30,191.16 L554.70,191.15 L555.10,191.15 L555.50,191.15 L555.90,191.14 L556.30,191.14 L556.70,191.13 L557.10,191.13 L557.50,191.13 L557.90,191.12 L558.30,191.12 L558.70,191.11 L559.10,191.11 L559.50,191.11 L559.90,191.10 L560.00,191.10 L560.30,191.10 L560.70,191.09 L561.10,191.09 L561.50,191.09 L561.90,191.09 L562.30,191.08 L562.70,191.08 L563.10,191.08 L563.50,191.08 L563.90,191.08 L564.30,191.08 L564.70,191.07 L565.10,191.07 L565.50,191.07 L565.90,191.07 L566.30,191.06 L566.70,191.06 L567.10,191.05 L567.50,191.05 L567.90,191.04 L568.30,191.04 L568.70,191.03 L569.10,191.02 L569.50,191.01 L569.90,191.00 L569.90,191.00 L570.30,188.81 L570.50,187.00 L570.70,184.66 L571.10,178.39 L571.40,175.00 L571.50,174.36 L571.90,172.09 L572.30,170.86 L572.40,170.80 L572.70,171.03 L573.10,171.81 L573.40,172.50 L573.50,172.74 L573.90,173.98 L574.30,175.48 L574.70,177.00 L575.00,178.00 L575.10,178.30 L575.50,179.49 L575.90,180.65 L576.30,181.75 L576.70,182.78 L577.10,183.70 L577.50,184.50 L577.50,184.50 L577.90,185.21 L578.30,185.88 L578.70,186.50 L579.10,187.06 L579.50,187.53 L579.90,187.92 L580.00,188.00 L580.30,188.23 L580.70,188.53 L581.10,188.81 L581.50,189.07 L581.90,189.31 L582.30,189.53 L582.70,189.72 L583.10,189.89 L583.50,190.03 L583.90,190.13 L584.30,190.20 L584.30,190.20 L584.70,190.25 L585.10,190.30 L585.50,190.34 L585.90,190.38 L586.30,190.42 L586.70,190.46 L587.10,190.49 L587.50,190.52 L587.90,190.54 L588.30,190.56 L588.70,190.58 L589.10,190.59 L589.50,190.60 L589.90,190.60 L590.00,190.60 L590.30,190.60 L590.70,190.60 L591.10,190.60 L591.50,190.60 L591.90,190.60 L592.30,190.60 L592.70,190.60 L593.10,190.60 L593.50,190.60 L593.90,190.60 L594.30,190.60 L594.70,190.60 L595.10,190.60 L595.50,190.60 L595.90,190.60 L596.30,190.60 L596.70,190.60 L597.10,190.60 L597.50,190.60 L597.90,190.60 L598.30,190.60 L598.70,190.60 L599.10,190.60 L599.50,190.60 L599.90,190.60 L600.30,190.60 L600.70,190.60 L601.10,190.60 L601.50,190.60 L601.90,190.60 L602.30,190.60 L602.70,190.60 L603.10,190.60 L603.50,190.60 L603.90,190.60 L604.30,190.60 L604.70,190.60 L605.10,190.60 L605.50,190.60 L605.90,190.60 L606.30,190.60 L606.70,190.60 L607.10,190.60 L607.50,190.60 L607.90,190.60 L608.30,190.60 L608.70,190.60 L609.10,190.60 L609.50,190.60 L609.90,190.60 L610.00,190.60 L610.30,190.60 L610.70,190.60 L611.10,190.59 L611.50,190.58 L611.90,190.57 L612.30,190.55 L612.70,190.53 L613.10,190.50 L613.50,190.47 L613.90,190.43 L614.30,190.38 L614.70,190.33 L615.10,190.27 L615.50,190.20 L615.50,190.20 L615.90,189.64 L616.30,188.12 L616.50,187.00 L616.70,182.87 L617.10,164.77 L617.20,160.00 L617.50,143.92 L617.90,120.24 L618.00,115.00 L618.30,98.28 L618.70,76.55 L619.10,66.60 L619.10,66.60 L619.50,73.90 L619.90,88.45 L620.10,95.00 L620.30,100.56 L620.70,111.55 L621.00,120.00 L621.10,122.97 L621.50,135.75 L621.90,147.57 L622.00,150.00 L622.30,156.81 L622.70,165.14 L623.10,171.48 L623.30,173.50 L623.50,175.01 L623.90,177.68 L624.30,179.90 L624.70,181.68 L625.10,183.05 L625.50,184.02 L625.60,184.20 L625.90,184.69 L626.30,185.28 L626.70,185.82 L627.10,186.30 L627.50,186.73 L627.90,187.12 L628.30,187.45 L628.70,187.74 L629.10,187.99 L629.50,188.21 L629.90,188.39 L630.20,188.50 L630.30,188.53 L630.70,188.67 L631.10,188.80 L631.50,188.93 L631.90,189.05 L632.30,189.16 L632.70,189.27 L633.10,189.38 L633.50,189.48 L633.90,189.57 L634.30,189.66 L634.70,189.75 L635.10,189.82 L635.50,189.90 L635.90,189.96 L636.30,190.02 L636.70,190.08 L637.10,190.13 L637.50,190.17 L637.90,190.21 L638.30,190.24 L638.70,190.27 L639.10,190.29 L639.40,190.30 L639.50,190.30 L639.90,190.32 L640.30,190.33 L640.70,190.34 L641.10,190.35 L641.50,190.36 L641.90,190.37 L642.30,190.38 L642.70,190.39 L643.10,190.40 L643.50,190.41 L643.90,190.42 L644.30,190.43 L644.70,190.44 L645.10,190.45 L645.50,190.46 L645.90,190.46 L646.30,190.47 L646.70,190.48 L647.10,190.49 L647.50,190.49 L647.90,190.50 L648.30,190.51 L648.70,190.51 L649.10,190.52 L649.50,190.53 L649.90,190.53 L650.30,190.54 L650.70,190.54 L651.10,190.55 L651.50,190.55 L651.90,190.56 L652.30,190.56 L652.70,190.56 L653.10,190.57 L653.50,190.57 L653.90,190.58 L654.30,190.58 L654.70,190.58 L655.10,190.58 L655.50,190.59 L655.90,190.59 L656.30,190.59 L656.70,190.59 L657.10,190.59 L657.50,190.60 L657.90,190.60 L658.30,190.60 L658.70,190.60 L659.10,190.60 L659.50,190.60 L659.90,190.60 L660.00,190.60 L660.30,190.60 L660.70,190.60 L661.10,190.60 L661.50,190.60 L661.90,190.60 L662.30,190.60 L662.70,190.60 L663.10,190.60 L663.50,190.60 L663.90,190.60 L664.30,190.60 L664.70,190.60 L665.10,190.60 L665.50,190.60 L665.90,190.60 L666.30,190.60 L666.70,190.60 L667.10,190.60 L667.50,190.60 L667.90,190.60 L668.30,190.60 L668.70,190.60 L669.10,190.60 L669.50,190.60 L669.90,190.60 L670.30,190.60 L670.70,190.60 L671.10,190.60 L671.50,190.60 L671.90,190.60 L672.30,190.60 L672.70,190.60 L673.10,190.60 L673.50,190.60 L673.90,190.60 L674.30,190.60 L674.70,190.60 L675.10,190.60 L675.50,190.60 L675.90,190.60 L676.30,190.60 L676.70,190.60 L677.10,190.60 L677.50,190.60 L677.90,190.60 L678.30,190.60 L678.70,190.60 L679.10,190.60 L679.50,190.60 L679.90,190.60 L680.30,190.60 L680.70,190.60 L681.10,190.60 L681.50,190.60 L681.90,190.60 L682.30,190.60 L682.70,190.60 L683.10,190.60 L683.50,190.60 L683.90,190.60 L684.30,190.60 L684.70,190.60 L685.10,190.60 L685.50,190.60 L685.90,190.60 L686.30,190.60 L686.70,190.60 L687.10,190.60 L687.50,190.60 L687.90,190.60 L688.30,190.60 L688.70,190.60 L689.10,190.60 L689.50,190.60 L689.90,190.60 L690.30,190.60 L690.70,190.60 L691.10,190.60 L691.50,190.60 L691.90,190.60 L692.30,190.60 L692.70,190.60 L693.10,190.60 L693.50,190.60 L693.90,190.60 L694.30,190.60 L694.70,190.60 L695.10,190.60 L695.50,190.60 L695.90,190.60 L696.30,190.60 L696.70,190.60 L697.10,190.60 L697.50,190.60 L697.90,190.60 L698.30,190.60 L698.70,190.60 L699.10,190.60 L699.50,190.60 L699.90,190.60 L700.30,190.60 L700.70,190.60 L701.10,190.60 L701.50,190.60 L701.90,190.60 L702.30,190.60 L702.70,190.60 L703.10,190.60 L703.50,190.60 L703.90,190.60 L704.30,190.60 L704.70,190.60 L705.10,190.60 L705.50,190.60 L705.90,190.60 L706.30,190.60 L706.70,190.60 L707.10,190.60 L707.50,190.60 L707.90,190.60 L708.30,190.60 L708.70,190.60 L709.10,190.60 L709.50,190.60 L709.90,190.60 L710.30,190.60 L710.50,190.60 L710.70,190.58 L711.10,190.41 L711.50,190.13 L711.90,189.80 L712.30,189.47 L712.70,189.19 L713.10,189.02 L713.30,189.00 L713.50,189.03 L713.90,189.20 L714.30,189.50 L714.70,189.84 L715.10,190.19 L715.50,190.46 L715.90,190.59 L716.00,190.60 L716.30,190.60 L716.70,190.60 L717.10,190.60 L717.50,190.60 L717.90,190.60 L718.30,190.60 L718.70,190.60 L719.10,190.60 L719.50,190.60 L719.90,190.60 L720.30,190.60 L720.70,190.60 L721.10,190.60 L721.50,190.60 L721.90,190.60 L722.30,190.60 L722.70,190.60 L723.10,190.60 L723.50,190.60 L723.90,190.60 L724.30,190.60 L724.70,190.60 L725.10,190.60 L725.50,190.60 L725.90,190.60 L726.30,190.60 L726.70,190.60 L727.10,190.60 L727.50,190.60 L727.90,190.60 L728.30,190.60 L728.70,190.60 L729.10,190.60 L729.50,190.60 L729.90,190.60 L730.30,190.60 L730.70,190.60 L731.10,190.60 L731.50,190.60 L731.90,190.60 L732.30,190.60 L732.70,190.60 L733.10,190.60 L733.50,190.60 L733.90,190.60 L734.30,190.60 L734.70,190.60 L735.10,190.60 L735.50,190.60 L735.90,190.60 L736.30,190.60 L736.70,190.60 L737.10,190.60 L737.50,190.60 L737.90,190.60 L738.30,190.60 L738.70,190.60 L739.10,190.60 L739.50,190.60 L739.90,190.60 L740.30,190.60 L740.70,190.60 L741.10,190.60 L741.50,190.60 L741.90,190.60 L742.30,190.60 L742.70,190.60 L743.10,190.60 L743.50,190.60 L743.90,190.60 L744.30,190.60 L744.70,190.60 L745.10,190.60 L745.50,190.60 L745.90,190.60 L746.30,190.60 L746.70,190.60 L747.10,190.60 L747.50,190.60 L747.90,190.60 L748.30,190.60 L748.70,190.60 L749.10,190.60 L749.50,190.60 L749.90,190.60 L750.30,190.60 L750.70,190.60 L751.10,190.60 L751.50,190.60 L751.90,190.60 L752.30,190.60 L752.70,190.60 L753.10,190.60 L753.50,190.60 L753.90,190.60 L754.30,190.60 L754.70,190.60 L755.10,190.60 L755.50,190.60 L755.90,190.60 L756.30,190.60 L756.70,190.60 L757.10,190.60 L757.50,190.60 L757.90,190.60 L758.30,190.60 L758.70,190.60 L759.10,190.60 L759.50,190.60 L759.90,190.60 L760.30,190.60 L760.70,190.60 L761.10,190.60 L761.50,190.60 L761.90,190.60 L762.30,190.60 L762.70,190.60 L763.10,190.60 L763.50,190.60 L763.90,190.60 L764.30,190.60 L764.70,190.60 L765.10,190.60 L765.50,190.60 L765.90,190.60 L766.30,190.60 L766.70,190.60 L767.10,190.60 L767.50,190.60 L767.90,190.60 L768.30,190.60 L768.70,190.60 L769.10,190.60 L769.50,190.60 L769.90,190.60 L770.30,190.60 L770.70,190.60 L771.10,190.60 L771.50,190.60 L771.90,190.60 L772.30,190.60 L772.70,190.60 L773.10,190.60 L773.50,190.60 L773.90,190.60 L774.30,190.60 L774.70,190.60 L775.10,190.60 L775.40,190.60" fill="none" stroke="#505050" stroke-width="0.8" stroke-linejoin="round"/>
<line x1="436.70" y1="346.20" x2="436.70" y2="473.90" stroke="#e4e4e4" stroke-width="1"/>
<line x1="436.20" y1="473.40" x2="779.80" y2="473.40" stroke="#666" stroke-width="1"/>
<path d="M432.50,471.40H436.70M433.70,468.91H436.70M433.70,466.41H436.70M433.70,463.92H436.70M433.70,461.42H436.70M432.50,458.93H436.70M433.70,456.44H436.70M433.70,453.94H436.70M433.70,451.45H436.70M433.70,448.95H436.70M432.50,446.46H436.70M433.70,443.97H436.70M433.70,441.47H436.70M433.70,438.98H436.70M433.70,436.48H436.70M432.50,433.99H436.70M433.70,431.50H436.70M433.70,429.00H436.70M433.70,426.51H436.70M433.70,424.01H436.70M432.50,421.52H436.70M433.70,419.03H436.70M433.70,416.53H436.70M433.70,414.04H436.70M433.70,411.54H436.70M432.50,409.05H436.70M433.70,406.56H436.70M433.70,404.06H436.70M433.70,401.57H436.70M433.70,399.07H436.70M432.50,396.58H436.70M433.70,394.09H436.70M433.70,391.59H436.70M433.70,389.10H436.70M433.70,386.60H436.70M432.50,384.11H436.70M433.70,381.62H436.70M433.70,379.12H436.70M433.70,376.63H436.70M433.70,374.13H436.70M432.50,371.64H436.70M433.70,369.15H436.70M433.70,366.65H436.70M433.70,364.16H436.70M433.70,361.66H436.70M432.50,359.17H436.70M433.70,356.68H436.70M433.70,354.18H436.70M433.70,351.69H436.70M433.70,349.19H436.70M432.50,346.70H436.70" stroke="#888" stroke-width="0.9" fill="none"/>
<path d="M436.70,473.80V477.50M440.98,473.80V476.40M445.26,473.80V476.40M449.55,473.80V476.40M453.83,473.80V476.40M458.11,473.80V477.50M462.39,473.80V476.40M466.68,473.80V476.40M470.96,473.80V476.40M475.24,473.80V476.40M479.52,473.80V477.50M483.81,473.80V476.40M488.09,473.80V476.40M492.37,473.80V476.40M496.65,473.80V476.40M500.94,473.80V477.50M505.22,473.80V476.40M509.50,473.80V476.40M513.78,473.80V476.40M518.07,473.80V476.40M522.35,473.80V477.50M526.63,473.80V476.40M530.91,473.80V476.40M535.20,473.80V476.40M539.48,473.80V476.40M543.76,473.80V477.50M548.04,473.80V476.40M552.33,473.80V476.40M556.61,473.80V476.40M560.89,473.80V476.40M565.17,473.80V477.50M569.46,473.80V476.40M573.74,473.80V476.40M578.02,473.80V476.40M582.30,473.80V476.40M586.59,473.80V477.50M590.87,473.80V476.40M595.15,473.80V476.40M599.43,473.80V476.40M603.72,473.80V476.40M608.00,473.80V477.50M612.28,473.80V476.40M616.56,473.80V476.40M620.85,473.80V476.40M625.13,473.80V476.40M629.41,473.80V477.50M633.69,473.80V476.40M637.98,473.80V476.40M642.26,473.80V476.40M646.54,473.80V476.40M650.83,473.80V477.50M655.11,473.80V476.40M659.39,473.80V476.40M663.67,473.80V476.40M667.95,473.80V476.40M672.24,473.80V477.50M676.52,473.80V476.40M680.80,473.80V476.40M685.09,473.80V476.40M689.37,473.80V476.40M693.65,473.80V477.50M697.93,473.80V476.40M702.21,473.80V476.40M706.50,473.80V476.40M710.78,473.80V476.40M715.06,473.80V477.50M719.35,473.80V476.40M723.63,473.80V476.40M727.91,473.80V476.40M732.19,473.80V476.40M736.47,473.80V477.50M740.76,473.80V476.40M745.04,473.80V476.40M749.32,473.80V476.40M753.61,473.80V476.40M757.89,473.80V477.50M762.17,473.80V476.40M766.45,473.80V476.40M770.73,473.80V476.40M775.02,473.80V476.40M779.30,473.80V477.50" stroke="#555" stroke-width="0.9" fill="none"/>
<text transform="translate(430.10,475.70) scale(0.96,1)" font-size="9.0" text-anchor="end" fill="#111" stroke="#111" stroke-width="0.3" id="t151">0</text>
<text transform="translate(430.10,463.23) scale(0.96,1)" font-size="9.0" text-anchor="end" fill="#111" stroke="#111" stroke-width="0.3" id="t152">10</text>
<text transform="translate(430.10,450.76) scale(0.96,1)" font-size="9.0" text-anchor="end" fill="#111" stroke="#111" stroke-width="0.3" id="t153">20</text>
<text transform="translate(430.10,438.29) scale(0.96,1)" font-size="9.0" text-anchor="end" fill="#111" stroke="#111" stroke-width="0.3" id="t154">30</text>
<text transform="translate(430.10,425.82) scale(0.96,1)" font-size="9.0" text-anchor="end" fill="#111" stroke="#111" stroke-width="0.3" id="t155">40</text>
<text transform="translate(430.10,413.35) scale(0.96,1)" font-size="9.0" text-anchor="end" fill="#111" stroke="#111" stroke-width="0.3" id="t156">50</text>
<text transform="translate(430.10,400.88) scale(0.96,1)" font-size="9.0" text-anchor="end" fill="#111" stroke="#111" stroke-width="0.3" id="t157">60</text>
<text transform="translate(430.10,388.41) scale(0.96,1)" font-size="9.0" text-anchor="end" fill="#111" stroke="#111" stroke-width="0.3" id="t158">70</text>
<text transform="translate(430.10,375.94) scale(0.96,1)" font-size="9.0" text-anchor="end" fill="#111" stroke="#111" stroke-width="0.3" id="t159">80</text>
<text transform="translate(430.10,363.47) scale(0.96,1)" font-size="9.0" text-anchor="end" fill="#111" stroke="#111" stroke-width="0.3" id="t160">90</text>
<text transform="translate(430.10,351.00) scale(0.96,1)" font-size="9.0" text-anchor="end" fill="#111" stroke="#111" stroke-width="0.3" id="t161">100</text>
<text transform="translate(438.30,485.70) scale(0.96,1)" font-size="9.0" text-anchor="middle" fill="#111" stroke="#111" stroke-width="0.3" id="t162">15</text>
<text transform="translate(459.71,485.70) scale(0.96,1)" font-size="9.0" text-anchor="middle" fill="#111" stroke="#111" stroke-width="0.3" id="t163">16</text>
<text transform="translate(481.12,485.70) scale(0.96,1)" font-size="9.0" text-anchor="middle" fill="#111" stroke="#111" stroke-width="0.3" id="t164">17</text>
<text transform="translate(502.54,485.70) scale(0.96,1)" font-size="9.0" text-anchor="middle" fill="#111" stroke="#111" stroke-width="0.3" id="t165">18</text>
<text transform="translate(523.95,485.70) scale(0.96,1)" font-size="9.0" text-anchor="middle" fill="#111" stroke="#111" stroke-width="0.3" id="t166">19</text>
<text transform="translate(545.36,485.70) scale(0.96,1)" font-size="9.0" text-anchor="middle" fill="#111" stroke="#111" stroke-width="0.3" id="t167">20</text>
<text transform="translate(566.77,485.70) scale(0.96,1)" font-size="9.0" text-anchor="middle" fill="#111" stroke="#111" stroke-width="0.3" id="t168">21</text>
<text transform="translate(588.19,485.70) scale(0.96,1)" font-size="9.0" text-anchor="middle" fill="#111" stroke="#111" stroke-width="0.3" id="t169">22</text>
<text transform="translate(609.60,485.70) scale(0.96,1)" font-size="9.0" text-anchor="middle" fill="#111" stroke="#111" stroke-width="0.3" id="t170">23</text>
<text transform="translate(631.01,485.70) scale(0.96,1)" font-size="9.0" text-anchor="middle" fill="#111" stroke="#111" stroke-width="0.3" id="t171">24</text>
<text transform="translate(652.42,485.70) scale(0.96,1)" font-size="9.0" text-anchor="middle" fill="#111" stroke="#111" stroke-width="0.3" id="t172">25</text>
<text transform="translate(673.84,485.70) scale(0.96,1)" font-size="9.0" text-anchor="middle" fill="#111" stroke="#111" stroke-width="0.3" id="t173">26</text>
<text transform="translate(695.25,485.70) scale(0.96,1)" font-size="9.0" text-anchor="middle" fill="#111" stroke="#111" stroke-width="0.3" id="t174">27</text>
<text transform="translate(716.66,485.70) scale(0.96,1)" font-size="9.0" text-anchor="middle" fill="#111" stroke="#111" stroke-width="0.3" id="t175">28</text>
<text transform="translate(738.07,485.70) scale(0.96,1)" font-size="9.0" text-anchor="middle" fill="#111" stroke="#111" stroke-width="0.3" id="t176">29</text>
<text transform="translate(759.49,485.70) scale(0.96,1)" font-size="9.0" text-anchor="middle" fill="#111" stroke="#111" stroke-width="0.3" id="t177">30</text>
<text transform="translate(780.90,485.70) scale(0.96,1)" font-size="9.0" text-anchor="middle" fill="#111" stroke="#111" stroke-width="0.3" id="t178">31</text>
<text transform="translate(397.20,321.80)" font-size="17.5" font-weight="bold" fill="#111" stroke="#111" stroke-width="0.3" id="t179">e</text>
<text transform="translate(413.40,336.80) scale(1.118,1)" font-size="11.0" font-weight="bold" fill="#111" stroke="#111" stroke-width="0.3" id="t180">5 mmol/L DTT, 4 °C, 60 min</text>
<text transform="translate(613.40,329.40) scale(1.075,1)" font-size="12.6" font-weight="bold" fill="#111" stroke="#111" stroke-width="0.3" id="t181">rHC</text>
<text transform="translate(614.60,343.30) scale(1.05,1)" font-size="8.8" fill="#1a1a1a" stroke="#1a1a1a" stroke-width="0.12" id="t182">23.72</text>
<text transform="translate(566.50,434.10) scale(1.075,1)" font-size="12.6" font-weight="bold" fill="#111" stroke="#111" stroke-width="0.3" id="t183">rLC</text>
<text transform="translate(565.70,446.80) scale(1.05,1)" font-size="8.8" fill="#1a1a1a" stroke="#1a1a1a" stroke-width="0.12" id="t184">21.53</text>
<path d="M437.50,473.20 L437.90,473.20 L438.30,473.20 L438.70,473.20 L439.10,473.20 L439.50,473.20 L439.90,473.20 L440.30,473.20 L440.70,473.20 L441.10,473.20 L441.50,473.20 L441.90,473.20 L442.30,473.20 L442.70,473.20 L443.10,473.20 L443.50,473.20 L443.90,473.20 L444.30,473.20 L444.70,473.20 L445.10,473.20 L445.50,473.20 L445.90,473.20 L446.30,473.20 L446.70,473.20 L447.10,473.20 L447.50,473.20 L447.90,473.20 L448.30,473.20 L448.70,473.20 L449.10,473.20 L449.50,473.20 L449.90,473.20 L450.30,473.20 L450.70,473.20 L451.10,473.20 L451.50,473.20 L451.90,473.20 L452.30,473.20 L452.70,473.20 L453.10,473.20 L453.50,473.20 L453.90,473.20 L454.30,473.20 L454.70,473.20 L455.10,473.20 L455.50,473.20 L455.90,473.20 L456.30,473.20 L456.70,473.20 L457.10,473.20 L457.50,473.20 L457.90,473.20 L458.30,473.20 L458.70,473.20 L459.10,473.20 L459.50,473.20 L459.90,473.20 L460.30,473.20 L460.70,473.20 L461.10,473.20 L461.50,473.20 L461.90,473.20 L462.30,473.20 L462.70,473.20 L463.10,473.20 L463.50,473.20 L463.90,473.20 L464.30,473.20 L464.70,473.20 L465.10,473.20 L465.50,473.20 L465.90,473.20 L466.30,473.19 L466.70,473.19 L467.10,473.19 L467.50,473.19 L467.90,473.19 L468.30,473.19 L468.70,473.19 L469.10,473.19 L469.50,473.19 L469.90,473.19 L470.30,473.19 L470.70,473.19 L471.10,473.19 L471.50,473.19 L471.90,473.19 L472.30,473.19 L472.70,473.19 L473.10,473.19 L473.50,473.19 L473.90,473.19 L474.30,473.19 L474.70,473.19 L475.10,473.19 L475.50,473.19 L475.90,473.19 L476.30,473.19 L476.70,473.19 L477.10,473.19 L477.50,473.19 L477.90,473.19 L478.30,473.19 L478.70,473.19 L479.10,473.19 L479.50,473.19 L479.90,473.19 L480.30,473.18 L480.70,473.18 L481.10,473.18 L481.50,473.18 L481.90,473.18 L482.30,473.18 L482.70,473.18 L483.10,473.18 L483.50,473.18 L483.90,473.18 L484.30,473.18 L484.70,473.18 L485.10,473.18 L485.50,473.18 L485.90,473.18 L486.30,473.18 L486.70,473.18 L487.10,473.18 L487.50,473.18 L487.90,473.18 L488.30,473.18 L488.70,473.18 L489.10,473.17 L489.50,473.17 L489.90,473.17 L490.30,473.17 L490.70,473.17 L491.10,473.17 L491.50,473.17 L491.90,473.17 L492.30,473.17 L492.70,473.17 L493.10,473.17 L493.50,473.17 L493.90,473.17 L494.30,473.17 L494.70,473.17 L495.10,473.17 L495.50,473.16 L495.90,473.16 L496.30,473.16 L496.70,473.16 L497.10,473.16 L497.50,473.16 L497.90,473.16 L498.30,473.16 L498.70,473.16 L499.10,473.16 L499.50,473.16 L499.90,473.16 L500.30,473.16 L500.70,473.15 L501.10,473.15 L501.50,473.15 L501.90,473.15 L502.30,473.15 L502.70,473.15 L503.10,473.15 L503.50,473.15 L503.90,473.15 L504.30,473.15 L504.70,473.15 L505.10,473.15 L505.50,473.14 L505.90,473.14 L506.30,473.14 L506.70,473.14 L507.10,473.14 L507.50,473.14 L507.90,473.14 L508.30,473.14 L508.70,473.14 L509.10,473.14 L509.50,473.13 L509.90,473.13 L510.30,473.13 L510.70,473.13 L511.10,473.13 L511.50,473.13 L511.90,473.13 L512.30,473.13 L512.70,473.13 L513.10,473.12 L513.50,473.12 L513.90,473.12 L514.30,473.12 L514.70,473.12 L515.10,473.12 L515.50,473.12 L515.90,473.12 L516.30,473.12 L516.70,473.11 L517.10,473.11 L517.50,473.11 L517.90,473.11 L518.30,473.11 L518.70,473.11 L519.10,473.11 L519.50,473.11 L519.90,473.10 L520.30,473.10 L520.70,473.10 L521.00,473.10 L521.10,473.10 L521.50,473.05 L521.90,472.95 L522.30,472.82 L522.70,472.68 L523.10,472.55 L523.50,472.45 L523.90,472.40 L524.00,472.40 L524.30,472.40 L524.70,472.39 L525.10,472.39 L525.50,472.39 L525.90,472.39 L526.30,472.38 L526.70,472.38 L527.10,472.38 L527.50,472.38 L527.90,472.37 L528.30,472.37 L528.70,472.37 L529.10,472.37 L529.50,472.36 L529.90,472.36 L530.30,472.36 L530.70,472.36 L531.10,472.36 L531.50,472.35 L531.90,472.35 L532.30,472.35 L532.70,472.35 L533.10,472.35 L533.50,472.34 L533.90,472.34 L534.30,472.34 L534.70,472.34 L535.10,472.34 L535.50,472.34 L535.90,472.33 L536.30,472.33 L536.70,472.33 L537.10,472.33 L537.50,472.33 L537.90,472.33 L538.30,472.33 L538.70,472.32 L539.10,472.32 L539.50,472.32 L539.90,472.32 L540.30,472.32 L540.70,472.32 L541.10,472.32 L541.50,472.32 L541.90,472.32 L542.30,472.32 L542.70,472.31 L543.10,472.31 L543.50,472.31 L543.90,472.31 L544.30,472.31 L544.70,472.31 L545.10,472.31 L545.50,472.31 L545.90,472.31 L546.30,472.31 L546.70,472.31 L547.10,472.31 L547.50,472.31 L547.90,472.31 L548.30,472.31 L548.70,472.30 L549.10,472.30 L549.50,472.30 L549.90,472.30 L550.30,472.30 L550.70,472.30 L551.10,472.30 L551.50,472.30 L551.90,472.30 L552.30,472.30 L552.70,472.30 L553.10,472.30 L553.50,472.30 L553.90,472.30 L554.30,472.30 L554.70,472.30 L555.10,472.30 L555.50,472.30 L555.90,472.30 L556.30,472.30 L556.70,472.30 L557.10,472.30 L557.50,472.30 L557.90,472.30 L558.30,472.30 L558.70,472.30 L559.10,472.30 L559.50,472.30 L559.90,472.30 L560.00,472.30 L560.30,472.30 L560.70,472.30 L561.10,472.30 L561.50,472.30 L561.90,472.30 L562.30,472.30 L562.70,472.30 L563.10,472.30 L563.50,472.30 L563.90,472.30 L564.30,472.30 L564.70,472.30 L565.10,472.30 L565.50,472.30 L565.90,472.30 L566.30,472.30 L566.70,472.30 L567.10,472.30 L567.50,472.30 L567.90,472.30 L568.30,472.30 L568.70,472.30 L569.10,472.30 L569.50,472.30 L569.90,472.30 L570.30,472.30 L570.70,472.30 L571.10,472.30 L571.50,472.30 L571.90,472.30 L572.30,472.30 L572.70,472.30 L573.10,472.30 L573.50,472.30 L573.90,472.30 L574.00,472.30 L574.30,470.90 L574.60,468.00 L574.70,466.73 L575.10,458.74 L575.40,454.00 L575.50,453.14 L575.90,450.25 L576.20,449.40 L576.30,449.43 L576.70,449.93 L577.10,450.78 L577.20,451.00 L577.50,451.82 L577.90,453.31 L578.30,455.05 L578.70,456.81 L579.00,458.00 L579.10,458.37 L579.50,459.92 L579.90,461.49 L580.30,463.01 L580.70,464.37 L581.10,465.47 L581.30,465.90 L581.50,466.27 L581.90,466.94 L582.30,467.52 L582.70,468.02 L583.10,468.44 L583.50,468.80 L583.50,468.80 L583.90,469.12 L584.30,469.42 L584.70,469.69 L585.10,469.91 L585.50,470.09 L585.90,470.20 L585.90,470.20 L586.30,470.27 L586.70,470.34 L587.10,470.40 L587.50,470.46 L587.90,470.51 L588.30,470.56 L588.70,470.60 L589.10,470.64 L589.50,470.67 L589.90,470.70 L590.30,470.73 L590.70,470.75 L591.10,470.77 L591.50,470.79 L591.90,470.80 L592.00,470.80 L592.30,470.81 L592.70,470.82 L593.10,470.82 L593.50,470.83 L593.90,470.84 L594.30,470.85 L594.70,470.85 L595.10,470.86 L595.50,470.86 L595.90,470.87 L596.30,470.87 L596.70,470.88 L597.10,470.88 L597.50,470.89 L597.90,470.89 L598.30,470.89 L598.70,470.90 L599.10,470.90 L599.50,470.90 L599.90,470.91 L600.30,470.91 L600.70,470.91 L601.10,470.92 L601.50,470.92 L601.90,470.92 L602.30,470.92 L602.70,470.93 L603.10,470.93 L603.50,470.93 L603.90,470.93 L604.30,470.94 L604.70,470.94 L605.10,470.94 L605.50,470.95 L605.90,470.95 L606.30,470.95 L606.70,470.96 L607.10,470.96 L607.50,470.97 L607.90,470.97 L608.30,470.98 L608.70,470.98 L609.10,470.99 L609.50,470.99 L609.90,471.00 L610.00,471.00 L610.30,471.01 L610.70,471.01 L611.10,471.02 L611.50,471.03 L611.90,471.05 L612.30,471.06 L612.70,471.07 L613.10,471.09 L613.50,471.10 L613.90,471.11 L614.30,471.13 L614.70,471.14 L615.10,471.15 L615.50,471.16 L615.90,471.17 L616.30,471.18 L616.70,471.19 L617.10,471.19 L617.50,471.20 L617.90,471.20 L618.00,471.20 L618.30,471.19 L618.70,471.15 L619.10,471.07 L619.50,470.93 L619.90,470.75 L620.30,470.50 L620.30,470.50 L620.70,468.43 L621.00,465.00 L621.10,462.99 L621.50,445.52 L621.60,440.00 L621.90,416.15 L622.20,390.00 L622.30,382.41 L622.70,352.71 L622.90,347.10 L623.10,349.61 L623.50,363.86 L623.80,375.00 L623.90,377.93 L624.30,389.42 L624.70,400.00 L624.70,400.00 L625.10,409.31 L625.50,417.89 L625.60,420.00 L625.90,426.46 L626.30,434.87 L626.70,442.00 L626.70,442.00 L627.10,448.05 L627.50,453.29 L627.90,456.70 L627.90,456.70 L628.30,458.58 L628.70,460.02 L629.10,461.12 L629.50,462.00 L629.50,462.00 L629.90,462.76 L630.30,463.44 L630.70,464.02 L631.10,464.52 L631.50,464.93 L631.70,465.10 L631.90,465.26 L632.30,465.56 L632.70,465.83 L633.10,466.09 L633.50,466.32 L633.90,466.53 L634.30,466.73 L634.70,466.91 L635.10,467.07 L635.50,467.22 L635.90,467.37 L636.00,467.40 L636.30,467.50 L636.70,467.63 L637.10,467.75 L637.50,467.86 L637.90,467.97 L638.30,468.07 L638.70,468.17 L639.10,468.26 L639.50,468.35 L639.90,468.43 L640.30,468.50 L640.70,468.57 L640.90,468.60 L641.10,468.63 L641.50,468.69 L641.90,468.75 L642.30,468.81 L642.70,468.86 L643.10,468.92 L643.50,468.97 L643.90,469.02 L644.30,469.06 L644.70,469.11 L645.10,469.15 L645.50,469.20 L645.90,469.24 L646.30,469.28 L646.70,469.32 L647.10,469.35 L647.50,469.39 L647.90,469.43 L648.30,469.46 L648.70,469.50 L649.10,469.53 L649.50,469.56 L649.90,469.59 L650.00,469.60 L650.30,469.62 L650.70,469.65 L651.10,469.68 L651.50,469.71 L651.90,469.74 L652.30,469.77 L652.70,469.80 L653.10,469.83 L653.50,469.86 L653.90,469.89 L654.30,469.91 L654.70,469.94 L655.10,469.96 L655.50,469.99 L655.90,470.01 L656.30,470.03 L656.70,470.06 L657.10,470.08 L657.50,470.10 L657.90,470.12 L658.30,470.13 L658.70,470.15 L659.10,470.17 L659.50,470.18 L659.90,470.20 L660.00,470.20 L660.30,470.21 L660.70,470.22 L661.10,470.24 L661.50,470.25 L661.90,470.26 L662.30,470.27 L662.70,470.28 L663.10,470.30 L663.50,470.31 L663.90,470.32 L664.30,470.33 L664.70,470.34 L665.10,470.35 L665.50,470.36 L665.90,470.37 L666.30,470.38 L666.70,470.40 L667.10,470.41 L667.50,470.42 L667.90,470.43 L668.30,470.44 L668.70,470.44 L669.10,470.45 L669.50,470.46 L669.90,470.47 L670.30,470.48 L670.70,470.49 L671.10,470.50 L671.50,470.51 L671.90,470.52 L672.30,470.53 L672.70,470.53 L673.10,470.54 L673.50,470.55 L673.90,470.56 L674.30,470.57 L674.70,470.57 L675.10,470.58 L675.50,470.59 L675.90,470.60 L676.30,470.60 L676.70,470.61 L677.10,470.62 L677.50,470.62 L677.90,470.63 L678.30,470.64 L678.70,470.64 L679.10,470.65 L679.50,470.66 L679.90,470.66 L680.30,470.67 L680.70,470.68 L681.10,470.68 L681.50,470.69 L681.90,470.69 L682.30,470.70 L682.70,470.71 L683.10,470.71 L683.50,470.72 L683.90,470.72 L684.30,470.73 L684.70,470.73 L685.10,470.74 L685.50,470.74 L685.90,470.75 L686.30,470.76 L686.70,470.76 L687.10,470.77 L687.50,470.77 L687.90,470.78 L688.30,470.78 L688.70,470.78 L689.10,470.79 L689.50,470.79 L689.90,470.80 L690.00,470.80 L690.30,470.80 L690.70,470.81 L691.10,470.81 L691.50,470.82 L691.90,470.82 L692.30,470.83 L692.70,470.83 L693.10,470.84 L693.50,470.84 L693.90,470.85 L694.30,470.85 L694.70,470.86 L695.10,470.86 L695.50,470.86 L695.90,470.87 L696.30,470.87 L696.70,470.88 L697.10,470.88 L697.50,470.89 L697.90,470.89 L698.30,470.90 L698.70,470.90 L699.10,470.91 L699.50,470.91 L699.90,470.91 L700.30,470.92 L700.70,470.92 L701.10,470.93 L701.50,470.93 L701.90,470.93 L702.30,470.94 L702.70,470.94 L703.10,470.95 L703.50,470.95 L703.90,470.95 L704.30,470.96 L704.70,470.96 L705.10,470.96 L705.50,470.97 L705.90,470.97 L706.30,470.97 L706.70,470.97 L707.10,470.98 L707.50,470.98 L707.90,470.98 L708.30,470.98 L708.70,470.99 L709.10,470.99 L709.50,470.99 L709.90,470.99 L710.30,470.99 L710.70,470.99 L711.10,471.00 L711.50,471.00 L711.90,471.00 L712.30,471.00 L712.70,471.00 L713.10,471.00 L713.50,471.00 L713.90,471.00 L714.00,471.00 L714.30,470.96 L714.70,470.80 L715.10,470.56 L715.50,470.28 L715.90,470.02 L716.30,469.81 L716.70,469.70 L716.80,469.70 L717.10,469.74 L717.50,469.92 L717.90,470.17 L718.30,470.45 L718.70,470.72 L719.10,470.92 L719.50,471.00 L719.50,471.00 L719.90,471.00 L720.30,471.01 L720.70,471.01 L721.10,471.01 L721.50,471.02 L721.90,471.02 L722.30,471.03 L722.70,471.03 L723.10,471.03 L723.50,471.04 L723.90,471.04 L724.30,471.04 L724.70,471.05 L725.10,471.05 L725.50,471.05 L725.90,471.05 L726.30,471.06 L726.70,471.06 L727.10,471.06 L727.50,471.07 L727.90,471.07 L728.30,471.07 L728.70,471.08 L729.10,471.08 L729.50,471.08 L729.90,471.08 L730.30,471.09 L730.70,471.09 L731.10,471.09 L731.50,471.09 L731.90,471.10 L732.30,471.10 L732.70,471.10 L733.10,471.10 L733.50,471.11 L733.90,471.11 L734.30,471.11 L734.70,471.11 L735.10,471.11 L735.50,471.12 L735.90,471.12 L736.30,471.12 L736.70,471.12 L737.10,471.12 L737.50,471.13 L737.90,471.13 L738.30,471.13 L738.70,471.13 L739.10,471.13 L739.50,471.14 L739.90,471.14 L740.30,471.14 L740.70,471.14 L741.10,471.14 L741.50,471.14 L741.90,471.15 L742.30,471.15 L742.70,471.15 L743.10,471.15 L743.50,471.15 L743.90,471.15 L744.30,471.16 L744.70,471.16 L745.10,471.16 L745.50,471.16 L745.90,471.16 L746.30,471.16 L746.70,471.16 L747.10,471.16 L747.50,471.17 L747.90,471.17 L748.30,471.17 L748.70,471.17 L749.10,471.17 L749.50,471.17 L749.90,471.17 L750.30,471.17 L750.70,471.17 L751.10,471.18 L751.50,471.18 L751.90,471.18 L752.30,471.18 L752.70,471.18 L753.10,471.18 L753.50,471.18 L753.90,471.18 L754.30,471.18 L754.70,471.18 L755.10,471.18 L755.50,471.18 L755.90,471.19 L756.30,471.19 L756.70,471.19 L757.10,471.19 L757.50,471.19 L757.90,471.19 L758.30,471.19 L758.70,471.19 L759.10,471.19 L759.50,471.19 L759.90,471.19 L760.30,471.19 L760.70,471.19 L761.10,471.19 L761.50,471.19 L761.90,471.19 L762.30,471.19 L762.70,471.19 L763.10,471.19 L763.50,471.19 L763.90,471.19 L764.30,471.20 L764.70,471.20 L765.10,471.20 L765.50,471.20 L765.90,471.20 L766.30,471.20 L766.70,471.20 L767.10,471.20 L767.50,471.20 L767.90,471.20 L768.30,471.20 L768.70,471.20 L769.10,471.20 L769.50,471.20 L769.90,471.20 L770.30,471.20 L770.70,471.20 L771.10,471.20 L771.50,471.20 L771.90,471.20 L772.30,471.20 L772.70,471.20 L773.10,471.20 L773.50,471.20 L773.90,471.20 L774.30,471.20 L774.70,471.20 L775.10,471.20 L775.50,471.20 L775.90,471.20 L776.30,471.20 L776.70,471.20 L777.10,471.20 L777.50,471.20 L777.90,471.20 L778.30,471.20 L778.70,471.20 L779.10,471.20 L779.30,471.20" fill="none" stroke="#505050" stroke-width="0.8" stroke-linejoin="round"/>
<text transform="translate(598.60,502.60) scale(1.03,1)" font-size="11.6" fill="#111" stroke="#111" stroke-width="0.3" id="t185">Time (min)</text>
</svg>
</body></html>
